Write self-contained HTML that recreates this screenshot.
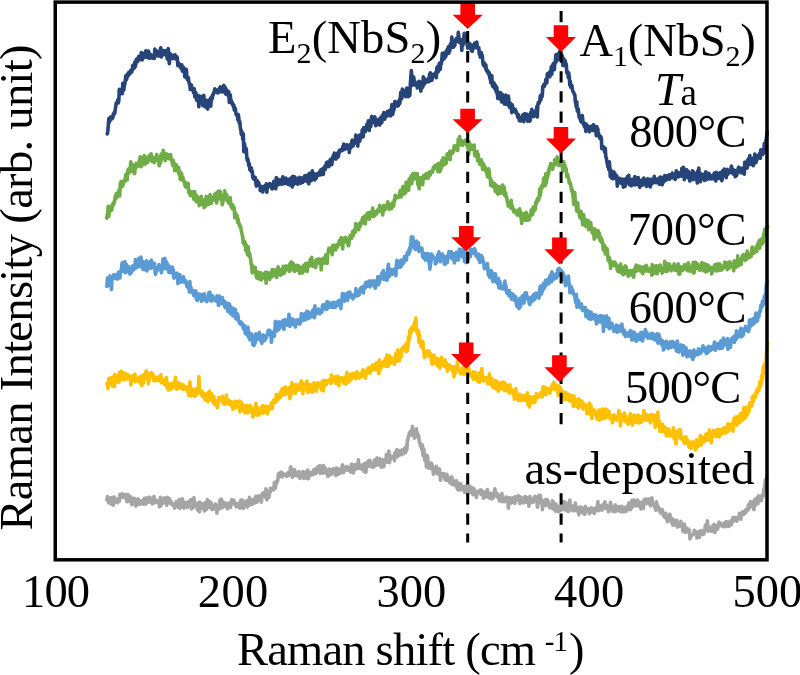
<!DOCTYPE html>
<html><head><meta charset="utf-8"><style>
html,body{margin:0;padding:0;background:#fff;}
svg{display:block;}
text{font-family:"Liberation Serif", "Times New Roman", serif;fill:#000;}
</style></head><body>
<svg width="800" height="675" viewBox="0 0 800 675">
<rect x="0" y="0" width="800" height="675" fill="#fff"/>
<path d="M106.9 500.0 L107.4 496.6 L107.9 499.4 L108.4 501.1 L108.9 503.0 L109.4 500.3 L109.9 498.6 L110.4 498.0 L110.9 501.9 L111.4 504.3 L111.9 501.0 L112.4 497.3 L112.9 498.3 L113.4 505.2 L113.9 501.8 L114.4 497.0 L114.9 501.6 L115.4 499.0 L115.9 500.7 L116.4 501.1 L116.9 500.0 L117.4 502.7 L117.9 500.5 L118.4 498.6 L118.9 500.7 L119.4 501.2 L119.9 494.2 L120.4 497.2 L120.9 494.8 L121.4 496.5 L121.9 493.7 L122.4 497.2 L122.9 497.2 L123.4 496.6 L123.9 494.8 L124.4 496.6 L124.9 494.9 L125.4 494.4 L125.9 498.6 L126.4 495.3 L126.9 501.7 L127.4 500.9 L127.9 494.3 L128.4 500.7 L128.9 497.5 L129.4 500.9 L129.9 501.4 L130.4 496.5 L130.9 501.5 L131.4 501.8 L131.9 504.6 L132.4 498.7 L132.9 503.4 L133.4 498.3 L133.9 500.0 L134.4 498.4 L134.9 504.0 L135.4 501.4 L135.9 506.0 L136.4 501.1 L136.9 502.0 L137.4 502.3 L137.9 498.8 L138.4 500.5 L138.9 504.5 L139.4 500.3 L139.9 502.1 L140.4 501.9 L140.9 503.8 L141.4 501.5 L141.9 502.0 L142.4 502.9 L142.9 502.4 L143.4 499.7 L143.9 504.2 L144.4 498.4 L144.9 498.5 L145.4 498.2 L145.9 503.9 L146.4 500.3 L146.9 498.6 L147.4 498.1 L147.9 502.0 L148.4 498.0 L148.9 497.3 L149.4 502.1 L149.9 497.3 L150.4 499.4 L150.9 500.1 L151.4 498.9 L151.9 500.2 L152.4 504.0 L152.9 499.5 L153.4 497.8 L153.9 496.5 L154.4 501.0 L154.9 500.9 L155.4 502.7 L155.9 501.1 L156.4 501.2 L156.9 500.5 L157.4 500.9 L157.9 502.5 L158.4 501.0 L158.9 502.1 L159.4 506.7 L159.9 502.9 L160.4 497.4 L160.9 505.9 L161.4 502.2 L161.9 498.7 L162.4 503.4 L162.9 500.9 L163.4 499.2 L163.9 499.0 L164.4 497.9 L164.9 500.5 L165.4 503.0 L165.9 499.3 L166.4 501.1 L166.9 505.2 L167.4 497.4 L167.9 501.5 L168.4 500.3 L168.9 498.5 L169.4 498.9 L169.9 501.8 L170.4 503.2 L170.9 500.9 L171.4 502.7 L171.9 504.5 L172.4 503.6 L172.9 505.2 L173.4 504.2 L173.9 504.4 L174.4 508.1 L174.9 505.1 L175.4 503.9 L175.9 505.5 L176.4 501.4 L176.9 502.8 L177.4 505.7 L177.9 505.2 L178.4 507.5 L178.9 503.5 L179.4 499.6 L179.9 508.4 L180.4 506.1 L180.9 500.4 L181.4 506.7 L181.9 503.4 L182.4 498.8 L182.9 502.6 L183.4 502.6 L183.9 508.2 L184.4 502.2 L184.9 503.8 L185.4 503.9 L185.9 503.9 L186.4 502.6 L186.9 505.4 L187.4 507.5 L187.9 506.2 L188.4 502.1 L188.9 501.4 L189.4 504.6 L189.9 502.3 L190.4 502.4 L190.9 499.5 L191.4 508.9 L191.9 506.2 L192.4 501.3 L192.9 506.2 L193.4 507.3 L193.9 497.6 L194.4 502.4 L194.9 502.8 L195.4 505.6 L195.9 503.7 L196.4 503.5 L196.9 504.1 L197.4 509.2 L197.9 510.1 L198.4 503.3 L198.9 502.3 L199.4 511.9 L199.9 502.4 L200.4 503.6 L200.9 505.3 L201.4 506.6 L201.9 508.2 L202.4 506.6 L202.9 503.5 L203.4 507.2 L203.9 506.7 L204.4 511.0 L204.9 506.2 L205.4 502.6 L205.9 503.1 L206.4 509.4 L206.9 503.9 L207.4 499.6 L207.9 503.3 L208.4 504.6 L208.9 507.4 L209.4 501.5 L209.9 505.6 L210.4 506.1 L210.9 502.4 L211.4 504.0 L211.9 509.4 L212.4 509.5 L212.9 507.5 L213.4 506.4 L213.9 508.7 L214.4 505.6 L214.9 506.0 L215.4 504.0 L215.9 506.2 L216.4 505.9 L216.9 513.2 L217.4 505.5 L217.9 509.2 L218.4 509.3 L218.9 505.3 L219.4 508.7 L219.9 500.0 L220.4 505.8 L220.9 507.6 L221.4 499.0 L221.9 502.1 L222.4 507.8 L222.9 504.2 L223.4 501.9 L223.9 503.7 L224.4 503.1 L224.9 506.3 L225.4 505.7 L225.9 504.0 L226.4 503.2 L226.9 505.0 L227.4 508.8 L227.9 506.4 L228.4 507.4 L228.9 505.5 L229.4 502.7 L229.9 504.4 L230.4 507.5 L230.9 505.4 L231.4 502.1 L231.9 499.6 L232.4 503.4 L232.9 501.6 L233.4 500.9 L233.9 500.5 L234.4 502.6 L234.9 503.0 L235.4 505.2 L235.9 505.5 L236.4 507.0 L236.9 506.1 L237.4 503.5 L237.9 504.7 L238.4 506.5 L238.9 504.7 L239.4 506.7 L239.9 508.1 L240.4 502.7 L240.9 500.0 L241.4 507.4 L241.9 504.1 L242.4 505.7 L242.9 500.3 L243.4 508.3 L243.9 505.7 L244.4 503.5 L244.9 502.9 L245.4 504.1 L245.9 503.4 L246.4 503.1 L246.9 500.9 L247.4 507.1 L247.9 503.6 L248.4 503.9 L248.9 503.9 L249.4 497.4 L249.9 504.9 L250.4 502.4 L250.9 502.3 L251.4 502.9 L251.9 499.9 L252.4 504.4 L252.9 500.1 L253.4 499.3 L253.9 499.2 L254.4 501.5 L254.9 502.8 L255.4 498.9 L255.9 496.2 L256.4 502.4 L256.9 496.5 L257.4 502.0 L257.9 498.3 L258.4 496.3 L258.9 496.0 L259.4 498.5 L259.9 499.2 L260.4 496.2 L260.9 499.2 L261.4 502.1 L261.9 496.1 L262.4 493.6 L262.9 493.8 L263.4 492.8 L263.9 494.7 L264.4 494.5 L264.9 492.9 L265.4 497.3 L265.9 488.7 L266.4 491.6 L266.9 499.9 L267.4 496.9 L267.9 495.1 L268.4 494.5 L268.9 497.5 L269.4 493.8 L269.9 492.2 L270.4 488.4 L270.9 491.0 L271.4 488.8 L271.9 488.5 L272.4 488.1 L272.9 489.4 L273.4 488.1 L273.9 489.7 L274.4 482.6 L274.9 484.2 L275.4 488.0 L275.9 481.9 L276.4 483.7 L276.9 482.3 L277.4 481.6 L277.9 479.5 L278.4 473.8 L278.9 476.5 L279.4 476.0 L279.9 472.8 L280.4 475.5 L280.9 473.4 L281.4 472.2 L281.9 477.0 L282.4 476.3 L282.9 474.5 L283.4 473.7 L283.9 474.7 L284.4 475.0 L284.9 474.9 L285.4 475.5 L285.9 474.3 L286.4 476.1 L286.9 476.2 L287.4 475.5 L287.9 472.8 L288.4 472.8 L288.9 475.4 L289.4 473.7 L289.9 474.0 L290.4 467.5 L290.9 466.9 L291.4 474.7 L291.9 474.6 L292.4 477.3 L292.9 475.5 L293.4 474.1 L293.9 473.4 L294.4 469.6 L294.9 475.5 L295.4 471.7 L295.9 474.7 L296.4 473.9 L296.9 474.2 L297.4 475.9 L297.9 472.4 L298.4 472.7 L298.9 471.6 L299.4 472.9 L299.9 478.3 L300.4 473.1 L300.9 477.1 L301.4 476.2 L301.9 476.0 L302.4 476.2 L302.9 471.5 L303.4 475.2 L303.9 478.4 L304.4 472.5 L304.9 474.2 L305.4 472.5 L305.9 475.1 L306.4 471.4 L306.9 478.4 L307.4 473.2 L307.9 470.1 L308.4 478.8 L308.9 476.6 L309.4 475.4 L309.9 475.4 L310.4 472.7 L310.9 472.7 L311.4 474.8 L311.9 474.9 L312.4 474.5 L312.9 472.2 L313.4 470.1 L313.9 470.4 L314.4 473.4 L314.9 473.8 L315.4 469.1 L315.9 468.8 L316.4 473.2 L316.9 471.9 L317.4 471.8 L317.9 466.6 L318.4 469.0 L318.9 468.7 L319.4 470.5 L319.9 465.6 L320.4 473.3 L320.9 470.7 L321.4 471.0 L321.9 466.7 L322.4 469.6 L322.9 473.1 L323.4 465.5 L323.9 470.3 L324.4 471.3 L324.9 467.6 L325.4 471.8 L325.9 469.1 L326.4 473.5 L326.9 471.9 L327.4 471.5 L327.9 476.4 L328.4 473.7 L328.9 475.2 L329.4 469.0 L329.9 470.8 L330.4 474.6 L330.9 474.6 L331.4 472.0 L331.9 474.1 L332.4 469.2 L332.9 472.4 L333.4 468.7 L333.9 472.4 L334.4 470.2 L334.9 469.7 L335.4 471.2 L335.9 475.6 L336.4 468.0 L336.9 468.8 L337.4 472.9 L337.9 468.7 L338.4 474.2 L338.9 469.9 L339.4 469.3 L339.9 469.8 L340.4 473.3 L340.9 470.5 L341.4 470.2 L341.9 469.5 L342.4 464.8 L342.9 466.6 L343.4 472.7 L343.9 471.0 L344.4 470.2 L344.9 470.6 L345.4 467.5 L345.9 469.8 L346.4 466.6 L346.9 470.0 L347.4 467.1 L347.9 468.4 L348.4 470.1 L348.9 468.1 L349.4 470.7 L349.9 470.2 L350.4 469.8 L350.9 472.1 L351.4 464.6 L351.9 464.1 L352.4 469.7 L352.9 470.3 L353.4 472.9 L353.9 469.5 L354.4 469.5 L354.9 464.8 L355.4 469.1 L355.9 468.9 L356.4 464.5 L356.9 465.0 L357.4 467.1 L357.9 468.1 L358.4 459.8 L358.9 467.7 L359.4 468.1 L359.9 467.1 L360.4 468.3 L360.9 468.8 L361.4 465.0 L361.9 468.7 L362.4 466.9 L362.9 465.1 L363.4 468.1 L363.9 471.5 L364.4 463.8 L364.9 463.3 L365.4 463.1 L365.9 472.3 L366.4 466.3 L366.9 466.6 L367.4 464.5 L367.9 463.9 L368.4 460.8 L368.9 466.3 L369.4 466.3 L369.9 460.3 L370.4 462.5 L370.9 463.0 L371.4 464.6 L371.9 465.0 L372.4 467.0 L372.9 467.4 L373.4 466.3 L373.9 466.8 L374.4 460.0 L374.9 461.3 L375.4 465.7 L375.9 463.6 L376.4 463.0 L376.9 457.8 L377.4 458.2 L377.9 465.0 L378.4 464.1 L378.9 462.5 L379.4 462.2 L379.9 458.7 L380.4 464.0 L380.9 465.7 L381.4 467.2 L381.9 463.0 L382.4 462.2 L382.9 459.8 L383.4 465.7 L383.9 466.7 L384.4 460.5 L384.9 462.6 L385.4 461.8 L385.9 459.8 L386.4 454.6 L386.9 459.9 L387.4 462.2 L387.9 456.6 L388.4 457.8 L388.9 451.1 L389.4 462.6 L389.9 460.3 L390.4 458.7 L390.9 457.6 L391.4 456.3 L391.9 457.4 L392.4 456.5 L392.9 456.5 L393.4 456.9 L393.9 457.2 L394.4 460.7 L394.9 452.7 L395.4 457.0 L395.9 454.5 L396.4 453.0 L396.9 449.6 L397.4 456.9 L397.9 452.3 L398.4 452.5 L398.9 455.2 L399.4 450.8 L399.9 453.3 L400.4 452.6 L400.9 454.4 L401.4 454.7 L401.9 449.7 L402.4 454.1 L402.9 451.3 L403.4 451.7 L403.9 450.7 L404.4 453.1 L404.9 447.8 L405.4 451.4 L405.9 452.2 L406.4 445.9 L406.9 449.4 L407.4 439.7 L407.9 439.9 L408.4 436.9 L408.9 435.4 L409.4 432.9 L409.9 433.2 L410.4 433.6 L410.9 430.8 L411.4 434.3 L411.9 435.1 L412.4 426.3 L412.9 431.6 L413.4 430.5 L413.9 431.5 L414.4 438.1 L414.9 435.7 L415.4 434.4 L415.9 434.9 L416.4 428.9 L416.9 436.7 L417.4 432.9 L417.9 435.4 L418.4 435.3 L418.9 437.7 L419.4 442.8 L419.9 442.5 L420.4 445.6 L420.9 444.0 L421.4 447.5 L421.9 449.6 L422.4 445.1 L422.9 455.3 L423.4 449.4 L423.9 449.2 L424.4 458.0 L424.9 460.5 L425.4 454.5 L425.9 456.0 L426.4 467.0 L426.9 460.4 L427.4 455.9 L427.9 460.2 L428.4 467.8 L428.9 465.1 L429.4 466.2 L429.9 468.2 L430.4 467.6 L430.9 465.7 L431.4 463.0 L431.9 468.9 L432.4 465.4 L432.9 468.8 L433.4 474.1 L433.9 471.5 L434.4 470.9 L434.9 470.6 L435.4 472.1 L435.9 472.4 L436.4 466.3 L436.9 470.0 L437.4 473.8 L437.9 472.5 L438.4 469.9 L438.9 471.4 L439.4 469.1 L439.9 473.7 L440.4 480.1 L440.9 475.7 L441.4 473.6 L441.9 474.3 L442.4 475.5 L442.9 475.4 L443.4 474.7 L443.9 473.6 L444.4 477.2 L444.9 479.5 L445.4 474.5 L445.9 475.3 L446.4 480.4 L446.9 474.2 L447.4 477.1 L447.9 478.3 L448.4 480.4 L448.9 479.9 L449.4 478.9 L449.9 482.7 L450.4 479.0 L450.9 477.6 L451.4 477.0 L451.9 484.3 L452.4 478.0 L452.9 483.7 L453.4 484.4 L453.9 484.9 L454.4 482.4 L454.9 481.6 L455.4 483.5 L455.9 482.2 L456.4 480.8 L456.9 487.8 L457.4 482.6 L457.9 490.0 L458.4 487.1 L458.9 484.9 L459.4 487.7 L459.9 490.1 L460.4 483.6 L460.9 485.0 L461.4 485.0 L461.9 488.4 L462.4 489.3 L462.9 488.5 L463.4 486.8 L463.9 487.6 L464.4 492.3 L464.9 492.4 L465.4 489.8 L465.9 485.9 L466.4 490.9 L466.9 489.9 L467.4 489.7 L467.9 493.4 L468.4 491.0 L468.9 486.2 L469.4 486.1 L469.9 492.1 L470.4 489.3 L470.9 491.4 L471.4 489.2 L471.9 487.4 L472.4 491.0 L472.9 494.7 L473.4 491.9 L473.9 488.5 L474.4 490.9 L474.9 490.8 L475.4 492.7 L475.9 494.9 L476.4 497.5 L476.9 493.0 L477.4 491.4 L477.9 492.7 L478.4 492.6 L478.9 491.5 L479.4 492.7 L479.9 492.7 L480.4 489.8 L480.9 494.4 L481.4 492.2 L481.9 490.8 L482.4 494.7 L482.9 492.4 L483.4 498.3 L483.9 495.2 L484.4 494.3 L484.9 492.2 L485.4 493.3 L485.9 496.7 L486.4 492.9 L486.9 496.8 L487.4 489.5 L487.9 495.6 L488.4 497.3 L488.9 496.3 L489.4 495.5 L489.9 498.3 L490.4 493.5 L490.9 493.2 L491.4 496.1 L491.9 499.0 L492.4 497.1 L492.9 495.5 L493.4 496.8 L493.9 497.2 L494.4 492.9 L494.9 488.9 L495.4 493.6 L495.9 492.4 L496.4 494.8 L496.9 493.3 L497.4 494.2 L497.9 497.6 L498.4 496.8 L498.9 496.5 L499.4 501.0 L499.9 495.5 L500.4 496.0 L500.9 500.6 L501.4 494.7 L501.9 493.6 L502.4 501.6 L502.9 499.4 L503.4 500.3 L503.9 500.7 L504.4 501.7 L504.9 498.5 L505.4 499.6 L505.9 497.1 L506.4 500.4 L506.9 500.8 L507.4 499.1 L507.9 502.1 L508.4 508.1 L508.9 497.6 L509.4 502.8 L509.9 503.2 L510.4 503.3 L510.9 498.1 L511.4 502.9 L511.9 501.2 L512.4 498.8 L512.9 497.9 L513.4 499.0 L513.9 500.5 L514.4 500.0 L514.9 503.3 L515.4 496.6 L515.9 499.4 L516.4 496.9 L516.9 500.3 L517.4 498.8 L517.9 497.2 L518.4 495.6 L518.9 497.3 L519.4 500.1 L519.9 503.6 L520.4 502.0 L520.9 497.0 L521.4 499.1 L521.9 500.6 L522.4 500.3 L522.9 501.0 L523.4 503.0 L523.9 501.7 L524.4 499.5 L524.9 496.5 L525.4 500.6 L525.9 497.1 L526.4 501.0 L526.9 502.2 L527.4 497.9 L527.9 501.0 L528.4 500.4 L528.9 506.3 L529.4 502.5 L529.9 496.4 L530.4 502.3 L530.9 502.2 L531.4 500.5 L531.9 500.0 L532.4 502.4 L532.9 502.5 L533.4 501.8 L533.9 498.0 L534.4 499.9 L534.9 496.4 L535.4 496.6 L535.9 499.1 L536.4 497.9 L536.9 499.6 L537.4 507.2 L537.9 502.1 L538.4 498.5 L538.9 495.3 L539.4 498.8 L539.9 497.3 L540.4 495.4 L540.9 503.1 L541.4 500.1 L541.9 502.6 L542.4 509.6 L542.9 502.4 L543.4 502.1 L543.9 502.8 L544.4 501.3 L544.9 500.0 L545.4 501.8 L545.9 505.6 L546.4 502.2 L546.9 499.6 L547.4 500.1 L547.9 501.0 L548.4 503.9 L548.9 505.4 L549.4 505.7 L549.9 507.8 L550.4 504.3 L550.9 507.2 L551.4 506.0 L551.9 507.2 L552.4 500.7 L552.9 508.9 L553.4 501.8 L553.9 503.1 L554.4 508.2 L554.9 505.3 L555.4 511.1 L555.9 507.1 L556.4 504.2 L556.9 507.4 L557.4 506.1 L557.9 511.3 L558.4 511.7 L558.9 509.5 L559.4 506.7 L559.9 508.2 L560.4 510.6 L560.9 505.6 L561.4 505.4 L561.9 509.5 L562.4 509.1 L562.9 506.4 L563.4 506.1 L563.9 501.6 L564.4 509.6 L564.9 506.0 L565.4 502.6 L565.9 503.5 L566.4 504.1 L566.9 510.9 L567.4 508.4 L567.9 503.2 L568.4 511.5 L568.9 510.2 L569.4 504.1 L569.9 500.0 L570.4 509.4 L570.9 505.3 L571.4 506.5 L571.9 505.5 L572.4 510.2 L572.9 510.7 L573.4 509.0 L573.9 506.5 L574.4 507.6 L574.9 508.5 L575.4 503.0 L575.9 510.6 L576.4 506.8 L576.9 508.5 L577.4 508.5 L577.9 510.7 L578.4 511.4 L578.9 514.6 L579.4 508.2 L579.9 507.0 L580.4 509.9 L580.9 507.9 L581.4 512.0 L581.9 507.8 L582.4 510.4 L582.9 512.6 L583.4 512.9 L583.9 510.9 L584.4 514.2 L584.9 514.0 L585.4 506.2 L585.9 511.5 L586.4 511.0 L586.9 509.7 L587.4 508.7 L587.9 510.4 L588.4 511.3 L588.9 510.9 L589.4 513.7 L589.9 512.7 L590.4 508.5 L590.9 508.0 L591.4 512.1 L591.9 508.1 L592.4 510.2 L592.9 511.0 L593.4 512.4 L593.9 511.0 L594.4 513.3 L594.9 508.3 L595.4 511.1 L595.9 507.5 L596.4 509.5 L596.9 509.1 L597.4 506.2 L597.9 501.6 L598.4 510.7 L598.9 509.0 L599.4 508.2 L599.9 505.8 L600.4 506.6 L600.9 508.6 L601.4 507.3 L601.9 510.2 L602.4 507.3 L602.9 504.8 L603.4 508.4 L603.9 505.0 L604.4 507.1 L604.9 501.7 L605.4 505.6 L605.9 508.1 L606.4 505.0 L606.9 506.8 L607.4 508.5 L607.9 507.3 L608.4 511.8 L608.9 506.6 L609.4 507.0 L609.9 507.1 L610.4 502.4 L610.9 503.6 L611.4 509.0 L611.9 506.7 L612.4 511.2 L612.9 507.4 L613.4 507.1 L613.9 510.2 L614.4 508.3 L614.9 511.7 L615.4 504.9 L615.9 508.8 L616.4 509.5 L616.9 509.2 L617.4 510.8 L617.9 510.5 L618.4 508.0 L618.9 506.5 L619.4 510.6 L619.9 508.2 L620.4 510.7 L620.9 511.8 L621.4 509.0 L621.9 506.2 L622.4 508.0 L622.9 510.8 L623.4 508.3 L623.9 512.0 L624.4 509.2 L624.9 509.5 L625.4 507.4 L625.9 508.4 L626.4 511.2 L626.9 507.2 L627.4 506.9 L627.9 505.5 L628.4 509.2 L628.9 502.9 L629.4 504.9 L629.9 508.6 L630.4 509.7 L630.9 505.3 L631.4 508.1 L631.9 500.3 L632.4 507.2 L632.9 505.8 L633.4 501.6 L633.9 500.0 L634.4 503.1 L634.9 504.9 L635.4 505.0 L635.9 504.3 L636.4 505.9 L636.9 505.6 L637.4 500.1 L637.9 502.6 L638.4 502.1 L638.9 506.0 L639.4 502.0 L639.9 505.8 L640.4 503.3 L640.9 509.0 L641.4 502.6 L641.9 502.6 L642.4 502.1 L642.9 502.7 L643.4 508.4 L643.9 500.7 L644.4 499.6 L644.9 501.2 L645.4 503.3 L645.9 499.0 L646.4 503.6 L646.9 503.4 L647.4 501.0 L647.9 500.7 L648.4 499.2 L648.9 500.5 L649.4 499.1 L649.9 504.4 L650.4 505.7 L650.9 501.1 L651.4 502.1 L651.9 497.7 L652.4 501.6 L652.9 504.3 L653.4 504.5 L653.9 504.5 L654.4 506.8 L654.9 505.2 L655.4 504.6 L655.9 510.3 L656.4 501.8 L656.9 504.4 L657.4 506.0 L657.9 506.7 L658.4 507.1 L658.9 509.2 L659.4 508.5 L659.9 510.8 L660.4 512.9 L660.9 511.8 L661.4 512.4 L661.9 509.9 L662.4 509.8 L662.9 512.3 L663.4 515.8 L663.9 514.7 L664.4 516.9 L664.9 517.0 L665.4 517.8 L665.9 513.2 L666.4 518.9 L666.9 518.0 L667.4 521.8 L667.9 518.4 L668.4 518.1 L668.9 517.3 L669.4 518.5 L669.9 514.2 L670.4 518.2 L670.9 519.1 L671.4 522.1 L671.9 518.2 L672.4 520.6 L672.9 525.3 L673.4 519.5 L673.9 523.4 L674.4 520.2 L674.9 521.7 L675.4 523.4 L675.9 524.8 L676.4 521.5 L676.9 520.3 L677.4 527.1 L677.9 524.0 L678.4 525.8 L678.9 526.3 L679.4 526.2 L679.9 523.8 L680.4 524.5 L680.9 521.2 L681.4 526.0 L681.9 524.7 L682.4 526.2 L682.9 531.4 L683.4 528.7 L683.9 527.4 L684.4 524.1 L684.9 529.8 L685.4 532.5 L685.9 527.3 L686.4 531.2 L686.9 529.6 L687.4 531.2 L687.9 531.4 L688.4 529.0 L688.9 532.6 L689.4 530.5 L689.9 538.9 L690.4 538.0 L690.9 535.3 L691.4 535.7 L691.9 534.9 L692.4 535.1 L692.9 534.9 L693.4 533.6 L693.9 533.5 L694.4 530.3 L694.9 531.0 L695.4 531.9 L695.9 533.9 L696.4 532.3 L696.9 538.0 L697.4 532.6 L697.9 532.0 L698.4 534.0 L698.9 535.4 L699.4 537.4 L699.9 535.0 L700.4 530.8 L700.9 531.5 L701.4 534.3 L701.9 532.0 L702.4 533.1 L702.9 530.5 L703.4 534.5 L703.9 533.8 L704.4 532.7 L704.9 529.9 L705.4 525.1 L705.9 525.4 L706.4 529.4 L706.9 530.0 L707.4 520.9 L707.9 527.1 L708.4 531.3 L708.9 530.8 L709.4 527.1 L709.9 529.9 L710.4 528.4 L710.9 527.8 L711.4 531.1 L711.9 531.2 L712.4 527.0 L712.9 525.9 L713.4 524.9 L713.9 524.4 L714.4 531.3 L714.9 532.5 L715.4 528.1 L715.9 530.0 L716.4 525.5 L716.9 526.9 L717.4 529.2 L717.9 527.5 L718.4 526.4 L718.9 522.1 L719.4 522.5 L719.9 525.0 L720.4 524.5 L720.9 525.5 L721.4 524.0 L721.9 524.9 L722.4 525.4 L722.9 526.4 L723.4 525.1 L723.9 523.4 L724.4 523.9 L724.9 526.8 L725.4 523.8 L725.9 521.7 L726.4 521.5 L726.9 524.5 L727.4 525.0 L727.9 526.5 L728.4 522.4 L728.9 526.5 L729.4 522.0 L729.9 522.1 L730.4 521.0 L730.9 523.6 L731.4 524.7 L731.9 521.8 L732.4 520.4 L732.9 517.5 L733.4 521.5 L733.9 519.9 L734.4 519.9 L734.9 518.4 L735.4 517.5 L735.9 518.3 L736.4 520.1 L736.9 521.1 L737.4 518.3 L737.9 518.8 L738.4 517.1 L738.9 516.9 L739.4 513.4 L739.9 518.6 L740.4 517.5 L740.9 519.2 L741.4 513.5 L741.9 514.9 L742.4 511.8 L742.9 514.2 L743.4 512.9 L743.9 514.4 L744.4 511.9 L744.9 513.4 L745.4 510.1 L745.9 512.4 L746.4 509.6 L746.9 508.8 L747.4 509.7 L747.9 510.0 L748.4 505.0 L748.9 504.3 L749.4 508.1 L749.9 507.0 L750.4 501.6 L750.9 502.0 L751.4 503.9 L751.9 506.1 L752.4 505.4 L752.9 507.1 L753.4 507.1 L753.9 509.7 L754.4 499.7 L754.9 502.9 L755.4 505.3 L755.9 499.1 L756.4 498.3 L756.9 501.9 L757.4 503.8 L757.9 503.8 L758.4 495.8 L758.9 496.7 L759.4 498.8 L759.9 497.0 L760.4 498.5 L760.9 497.3 L761.4 500.7 L761.9 495.3 L762.4 495.2 L762.9 494.3 L763.4 496.1 L763.9 488.7 L764.4 489.8 L764.9 484.2 L765.4 479.9 L765.9 483.8 L766.4 479.5 L766.8 476.0" fill="none" stroke="#A5A5A5" stroke-width="3.6" stroke-linejoin="round" stroke-linecap="round"/>
<path d="M106.9 383.8 L107.4 383.2 L107.9 388.4 L108.4 385.3 L108.9 378.5 L109.4 383.1 L109.9 381.2 L110.4 383.2 L110.9 377.8 L111.4 382.8 L111.9 382.5 L112.4 386.0 L112.9 382.0 L113.4 382.3 L113.9 376.1 L114.4 386.7 L114.9 374.3 L115.4 382.7 L115.9 378.2 L116.4 376.3 L116.9 376.6 L117.4 376.4 L117.9 379.3 L118.4 377.7 L118.9 382.2 L119.4 372.4 L119.9 377.5 L120.4 374.9 L120.9 379.6 L121.4 371.2 L121.9 376.3 L122.4 377.8 L122.9 372.8 L123.4 379.9 L123.9 377.5 L124.4 379.7 L124.9 379.4 L125.4 373.6 L125.9 374.0 L126.4 375.6 L126.9 378.2 L127.4 378.9 L127.9 374.8 L128.4 375.5 L128.9 375.3 L129.4 376.3 L129.9 377.7 L130.4 378.5 L130.9 384.9 L131.4 377.3 L131.9 377.8 L132.4 379.8 L132.9 375.5 L133.4 377.1 L133.9 378.0 L134.4 380.2 L134.9 374.0 L135.4 381.8 L135.9 376.7 L136.4 378.1 L136.9 380.0 L137.4 379.4 L137.9 380.9 L138.4 378.7 L138.9 378.5 L139.4 379.9 L139.9 376.5 L140.4 383.3 L140.9 377.9 L141.4 376.7 L141.9 385.7 L142.4 378.7 L142.9 375.0 L143.4 383.2 L143.9 376.2 L144.4 379.6 L144.9 374.1 L145.4 375.8 L145.9 371.6 L146.4 371.0 L146.9 373.7 L147.4 376.3 L147.9 378.9 L148.4 383.7 L148.9 373.7 L149.4 379.7 L149.9 375.1 L150.4 376.5 L150.9 372.7 L151.4 372.7 L151.9 374.7 L152.4 373.5 L152.9 377.0 L153.4 375.0 L153.9 380.6 L154.4 377.5 L154.9 377.7 L155.4 380.6 L155.9 378.8 L156.4 377.3 L156.9 377.2 L157.4 377.2 L157.9 380.8 L158.4 380.0 L158.9 378.9 L159.4 380.2 L159.9 376.4 L160.4 379.7 L160.9 374.5 L161.4 382.8 L161.9 379.5 L162.4 380.1 L162.9 381.6 L163.4 380.2 L163.9 379.9 L164.4 384.5 L164.9 381.7 L165.4 379.1 L165.9 383.5 L166.4 377.6 L166.9 387.6 L167.4 382.5 L167.9 383.4 L168.4 390.1 L168.9 390.0 L169.4 384.3 L169.9 385.9 L170.4 387.3 L170.9 389.1 L171.4 383.9 L171.9 384.8 L172.4 388.0 L172.9 385.3 L173.4 386.8 L173.9 386.5 L174.4 381.5 L174.9 382.4 L175.4 377.3 L175.9 384.3 L176.4 389.0 L176.9 382.0 L177.4 388.9 L177.9 388.3 L178.4 385.3 L178.9 385.5 L179.4 385.9 L179.9 383.4 L180.4 385.2 L180.9 386.0 L181.4 388.1 L181.9 388.8 L182.4 384.6 L182.9 389.4 L183.4 385.0 L183.9 387.0 L184.4 388.8 L184.9 387.9 L185.4 387.8 L185.9 389.2 L186.4 387.1 L186.9 387.0 L187.4 388.6 L187.9 392.2 L188.4 389.4 L188.9 395.5 L189.4 390.9 L189.9 381.9 L190.4 389.5 L190.9 395.9 L191.4 391.3 L191.9 390.2 L192.4 389.0 L192.9 395.5 L193.4 394.7 L193.9 393.8 L194.4 393.2 L194.9 396.3 L195.4 394.5 L195.9 388.7 L196.4 394.6 L196.9 392.9 L197.4 392.2 L197.9 392.6 L198.4 387.8 L198.9 376.5 L199.4 391.3 L199.9 392.6 L200.4 392.1 L200.9 392.4 L201.4 394.8 L201.9 391.1 L202.4 396.4 L202.9 395.0 L203.4 394.7 L203.9 393.2 L204.4 394.0 L204.9 399.3 L205.4 400.0 L205.9 397.7 L206.4 396.2 L206.9 393.9 L207.4 398.7 L207.9 401.5 L208.4 392.3 L208.9 400.5 L209.4 391.0 L209.9 396.5 L210.4 398.8 L210.9 393.8 L211.4 393.6 L211.9 398.7 L212.4 400.9 L212.9 397.1 L213.4 402.6 L213.9 396.6 L214.4 404.3 L214.9 399.9 L215.4 400.6 L215.9 402.0 L216.4 401.5 L216.9 406.2 L217.4 407.6 L217.9 402.7 L218.4 400.5 L218.9 397.4 L219.4 398.5 L219.9 400.5 L220.4 400.0 L220.9 400.0 L221.4 400.0 L221.9 401.5 L222.4 396.3 L222.9 397.3 L223.4 403.6 L223.9 402.9 L224.4 398.9 L224.9 404.3 L225.4 398.6 L225.9 399.7 L226.4 395.1 L226.9 402.8 L227.4 400.2 L227.9 403.2 L228.4 402.1 L228.9 400.4 L229.4 401.1 L229.9 404.6 L230.4 401.2 L230.9 401.7 L231.4 402.9 L231.9 405.6 L232.4 406.4 L232.9 409.3 L233.4 403.3 L233.9 407.1 L234.4 401.3 L234.9 404.8 L235.4 403.3 L235.9 407.8 L236.4 404.4 L236.9 401.5 L237.4 404.7 L237.9 404.2 L238.4 402.4 L238.9 402.7 L239.4 401.0 L239.9 411.9 L240.4 404.9 L240.9 407.9 L241.4 402.4 L241.9 403.3 L242.4 406.7 L242.9 407.3 L243.4 410.7 L243.9 406.0 L244.4 410.3 L244.9 413.0 L245.4 405.7 L245.9 410.8 L246.4 405.2 L246.9 408.9 L247.4 408.7 L247.9 412.9 L248.4 406.1 L248.9 408.8 L249.4 411.6 L249.9 405.4 L250.4 409.1 L250.9 406.8 L251.4 407.5 L251.9 411.5 L252.4 411.6 L252.9 417.0 L253.4 413.5 L253.9 413.3 L254.4 409.1 L254.9 408.7 L255.4 410.1 L255.9 403.4 L256.4 415.0 L256.9 408.5 L257.4 407.7 L257.9 409.6 L258.4 413.8 L258.9 415.0 L259.4 410.1 L259.9 412.3 L260.4 410.7 L260.9 407.8 L261.4 411.0 L261.9 410.4 L262.4 405.7 L262.9 413.3 L263.4 405.5 L263.9 410.8 L264.4 407.0 L264.9 407.7 L265.4 408.0 L265.9 412.1 L266.4 406.4 L266.9 409.1 L267.4 413.8 L267.9 407.0 L268.4 408.5 L268.9 410.2 L269.4 406.3 L269.9 409.0 L270.4 405.1 L270.9 408.4 L271.4 405.9 L271.9 402.3 L272.4 408.5 L272.9 403.5 L273.4 402.3 L273.9 399.7 L274.4 400.2 L274.9 400.4 L275.4 400.4 L275.9 402.2 L276.4 394.4 L276.9 396.3 L277.4 400.0 L277.9 396.3 L278.4 396.3 L278.9 399.1 L279.4 394.8 L279.9 394.5 L280.4 392.4 L280.9 397.0 L281.4 394.4 L281.9 389.4 L282.4 393.1 L282.9 388.3 L283.4 394.9 L283.9 393.8 L284.4 391.5 L284.9 390.8 L285.4 386.7 L285.9 394.1 L286.4 391.4 L286.9 390.8 L287.4 393.7 L287.9 389.6 L288.4 389.7 L288.9 389.3 L289.4 387.6 L289.9 398.7 L290.4 391.3 L290.9 390.9 L291.4 394.4 L291.9 382.6 L292.4 391.5 L292.9 391.5 L293.4 388.5 L293.9 392.5 L294.4 385.2 L294.9 390.9 L295.4 393.3 L295.9 384.2 L296.4 386.1 L296.9 389.6 L297.4 389.6 L297.9 387.5 L298.4 390.1 L298.9 389.4 L299.4 384.5 L299.9 387.8 L300.4 384.3 L300.9 382.0 L301.4 381.0 L301.9 391.0 L302.4 387.6 L302.9 393.7 L303.4 383.7 L303.9 387.0 L304.4 389.0 L304.9 387.6 L305.4 389.4 L305.9 388.3 L306.4 386.0 L306.9 381.0 L307.4 384.9 L307.9 392.6 L308.4 389.8 L308.9 391.5 L309.4 385.7 L309.9 386.8 L310.4 384.8 L310.9 388.4 L311.4 387.4 L311.9 388.4 L312.4 392.2 L312.9 384.5 L313.4 389.0 L313.9 382.7 L314.4 389.9 L314.9 385.4 L315.4 386.4 L315.9 386.9 L316.4 391.2 L316.9 386.2 L317.4 384.8 L317.9 382.7 L318.4 386.8 L318.9 383.5 L319.4 384.4 L319.9 385.7 L320.4 387.6 L320.9 383.4 L321.4 387.2 L321.9 390.3 L322.4 380.7 L322.9 388.8 L323.4 390.9 L323.9 382.8 L324.4 386.1 L324.9 380.2 L325.4 385.0 L325.9 382.9 L326.4 384.5 L326.9 380.8 L327.4 380.9 L327.9 381.8 L328.4 380.8 L328.9 380.9 L329.4 381.9 L329.9 379.1 L330.4 381.7 L330.9 383.4 L331.4 375.1 L331.9 382.2 L332.4 379.3 L332.9 378.0 L333.4 377.2 L333.9 378.5 L334.4 378.6 L334.9 381.6 L335.4 376.7 L335.9 383.3 L336.4 377.7 L336.9 381.9 L337.4 382.9 L337.9 376.1 L338.4 382.6 L338.9 385.7 L339.4 377.9 L339.9 380.8 L340.4 378.7 L340.9 379.3 L341.4 378.5 L341.9 377.6 L342.4 381.1 L342.9 381.5 L343.4 379.0 L343.9 383.3 L344.4 382.1 L344.9 380.9 L345.4 376.8 L345.9 384.3 L346.4 382.5 L346.9 372.4 L347.4 375.3 L347.9 377.1 L348.4 381.1 L348.9 381.9 L349.4 377.4 L349.9 378.9 L350.4 380.0 L350.9 374.1 L351.4 379.3 L351.9 376.5 L352.4 377.7 L352.9 376.8 L353.4 373.3 L353.9 373.6 L354.4 376.4 L354.9 376.4 L355.4 375.1 L355.9 378.8 L356.4 374.5 L356.9 371.8 L357.4 374.2 L357.9 374.5 L358.4 374.5 L358.9 378.0 L359.4 376.0 L359.9 377.4 L360.4 375.9 L360.9 373.3 L361.4 376.5 L361.9 372.5 L362.4 373.7 L362.9 369.8 L363.4 372.7 L363.9 371.2 L364.4 372.9 L364.9 376.8 L365.4 378.2 L365.9 374.1 L366.4 370.8 L366.9 373.0 L367.4 371.1 L367.9 368.4 L368.4 369.8 L368.9 369.0 L369.4 367.7 L369.9 373.3 L370.4 367.5 L370.9 367.5 L371.4 370.8 L371.9 366.6 L372.4 365.1 L372.9 365.8 L373.4 369.5 L373.9 369.0 L374.4 368.6 L374.9 366.2 L375.4 364.7 L375.9 369.8 L376.4 362.8 L376.9 366.2 L377.4 362.7 L377.9 366.9 L378.4 369.5 L378.9 373.8 L379.4 360.0 L379.9 370.3 L380.4 363.2 L380.9 366.3 L381.4 367.5 L381.9 362.6 L382.4 364.3 L382.9 365.7 L383.4 363.6 L383.9 361.6 L384.4 364.0 L384.9 363.4 L385.4 358.5 L385.9 366.5 L386.4 363.0 L386.9 355.0 L387.4 359.3 L387.9 366.5 L388.4 365.8 L388.9 361.7 L389.4 355.7 L389.9 359.7 L390.4 363.3 L390.9 361.3 L391.4 359.1 L391.9 357.9 L392.4 362.3 L392.9 359.2 L393.4 360.7 L393.9 361.1 L394.4 364.4 L394.9 360.1 L395.4 359.8 L395.9 353.4 L396.4 361.3 L396.9 360.1 L397.4 356.9 L397.9 349.9 L398.4 354.3 L398.9 355.6 L399.4 360.9 L399.9 356.0 L400.4 356.1 L400.9 355.6 L401.4 356.5 L401.9 348.7 L402.4 349.0 L402.9 347.4 L403.4 349.4 L403.9 348.7 L404.4 349.4 L404.9 345.5 L405.4 347.8 L405.9 344.0 L406.4 351.6 L406.9 342.9 L407.4 350.8 L407.9 347.0 L408.4 337.0 L408.9 341.3 L409.4 338.3 L409.9 330.1 L410.4 334.3 L410.9 330.9 L411.4 331.5 L411.9 327.3 L412.4 329.0 L412.9 329.6 L413.4 326.8 L413.9 324.5 L414.4 324.8 L414.9 321.4 L415.4 324.7 L415.9 318.0 L416.4 331.6 L416.9 329.1 L417.4 332.1 L417.9 334.9 L418.4 330.5 L418.9 342.4 L419.4 334.1 L419.9 340.4 L420.4 341.7 L420.9 346.2 L421.4 344.0 L421.9 341.6 L422.4 348.2 L422.9 341.6 L423.4 349.6 L423.9 350.4 L424.4 357.7 L424.9 353.2 L425.4 352.7 L425.9 351.9 L426.4 351.6 L426.9 352.4 L427.4 355.9 L427.9 350.7 L428.4 354.2 L428.9 351.0 L429.4 355.1 L429.9 356.4 L430.4 353.6 L430.9 357.1 L431.4 360.5 L431.9 364.0 L432.4 364.3 L432.9 360.6 L433.4 357.4 L433.9 355.0 L434.4 361.4 L434.9 362.5 L435.4 359.2 L435.9 363.5 L436.4 358.4 L436.9 359.4 L437.4 365.8 L437.9 359.1 L438.4 364.6 L438.9 364.4 L439.4 363.7 L439.9 368.3 L440.4 360.7 L440.9 362.1 L441.4 357.2 L441.9 360.2 L442.4 362.1 L442.9 362.9 L443.4 363.8 L443.9 365.7 L444.4 363.3 L444.9 359.9 L445.4 366.4 L445.9 367.2 L446.4 362.6 L446.9 363.7 L447.4 371.1 L447.9 369.0 L448.4 369.2 L448.9 367.9 L449.4 366.5 L449.9 365.1 L450.4 368.7 L450.9 367.0 L451.4 366.8 L451.9 368.5 L452.4 368.8 L452.9 372.0 L453.4 366.7 L453.9 377.0 L454.4 367.0 L454.9 368.8 L455.4 373.0 L455.9 368.0 L456.4 369.2 L456.9 370.7 L457.4 361.8 L457.9 368.8 L458.4 367.3 L458.9 369.2 L459.4 371.2 L459.9 371.4 L460.4 373.8 L460.9 373.6 L461.4 372.5 L461.9 369.5 L462.4 372.9 L462.9 367.1 L463.4 369.8 L463.9 374.5 L464.4 372.7 L464.9 366.4 L465.4 368.8 L465.9 373.2 L466.4 372.4 L466.9 373.7 L467.4 365.4 L467.9 367.3 L468.4 370.8 L468.9 369.1 L469.4 372.4 L469.9 373.0 L470.4 374.4 L470.9 373.4 L471.4 375.8 L471.9 376.8 L472.4 375.4 L472.9 371.8 L473.4 379.5 L473.9 376.8 L474.4 377.8 L474.9 377.5 L475.4 372.4 L475.9 378.8 L476.4 375.3 L476.9 373.7 L477.4 381.1 L477.9 376.5 L478.4 378.2 L478.9 380.0 L479.4 382.2 L479.9 372.3 L480.4 375.5 L480.9 379.8 L481.4 376.0 L481.9 368.6 L482.4 378.7 L482.9 379.1 L483.4 380.9 L483.9 379.4 L484.4 377.6 L484.9 379.6 L485.4 379.2 L485.9 378.1 L486.4 380.6 L486.9 381.2 L487.4 377.5 L487.9 383.8 L488.4 383.5 L488.9 383.7 L489.4 373.7 L489.9 382.3 L490.4 381.8 L490.9 379.5 L491.4 384.3 L491.9 378.4 L492.4 386.6 L492.9 384.3 L493.4 381.9 L493.9 387.8 L494.4 385.2 L494.9 385.0 L495.4 380.5 L495.9 386.2 L496.4 389.1 L496.9 388.6 L497.4 381.9 L497.9 390.1 L498.4 391.1 L498.9 389.2 L499.4 386.0 L499.9 383.1 L500.4 384.8 L500.9 385.6 L501.4 388.0 L501.9 388.7 L502.4 384.8 L502.9 382.1 L503.4 385.6 L503.9 382.8 L504.4 390.5 L504.9 382.9 L505.4 388.2 L505.9 389.6 L506.4 384.7 L506.9 390.9 L507.4 387.9 L507.9 386.4 L508.4 386.3 L508.9 389.8 L509.4 393.0 L509.9 384.7 L510.4 392.4 L510.9 390.6 L511.4 389.1 L511.9 391.4 L512.4 392.0 L512.9 392.2 L513.4 395.1 L513.9 390.5 L514.4 399.2 L514.9 396.4 L515.4 392.2 L515.9 388.5 L516.4 394.2 L516.9 393.3 L517.4 396.8 L517.9 396.9 L518.4 400.5 L518.9 394.7 L519.4 397.6 L519.9 394.2 L520.4 394.7 L520.9 400.6 L521.4 396.2 L521.9 396.7 L522.4 396.3 L522.9 398.7 L523.4 399.9 L523.9 398.2 L524.4 395.6 L524.9 400.4 L525.4 397.1 L525.9 398.4 L526.4 400.1 L526.9 400.2 L527.4 392.7 L527.9 404.5 L528.4 401.8 L528.9 405.2 L529.4 406.9 L529.9 396.7 L530.4 397.8 L530.9 400.2 L531.4 402.2 L531.9 398.0 L532.4 398.5 L532.9 402.6 L533.4 396.9 L533.9 400.1 L534.4 402.6 L534.9 398.7 L535.4 401.3 L535.9 398.3 L536.4 393.5 L536.9 396.1 L537.4 396.6 L537.9 395.8 L538.4 396.4 L538.9 397.0 L539.4 396.2 L539.9 395.4 L540.4 393.2 L540.9 393.4 L541.4 392.6 L541.9 391.5 L542.4 396.8 L542.9 386.9 L543.4 392.7 L543.9 386.8 L544.4 389.4 L544.9 393.1 L545.4 389.8 L545.9 394.6 L546.4 387.7 L546.9 389.5 L547.4 388.5 L547.9 390.3 L548.4 389.3 L548.9 389.0 L549.4 390.3 L549.9 393.2 L550.4 390.2 L550.9 389.7 L551.4 388.4 L551.9 386.9 L552.4 384.5 L552.9 385.4 L553.4 388.3 L553.9 382.3 L554.4 389.6 L554.9 386.2 L555.4 384.4 L555.9 385.3 L556.4 388.5 L556.9 387.4 L557.4 387.7 L557.9 393.0 L558.4 395.5 L558.9 385.8 L559.4 393.0 L559.9 389.1 L560.4 387.7 L560.9 390.6 L561.4 395.4 L561.9 391.9 L562.4 391.7 L562.9 397.6 L563.4 395.3 L563.9 393.9 L564.4 399.8 L564.9 396.2 L565.4 393.1 L565.9 392.4 L566.4 394.7 L566.9 396.8 L567.4 399.4 L567.9 399.5 L568.4 397.7 L568.9 394.3 L569.4 400.8 L569.9 398.7 L570.4 395.6 L570.9 395.5 L571.4 400.1 L571.9 400.8 L572.4 402.5 L572.9 396.9 L573.4 406.4 L573.9 395.9 L574.4 401.4 L574.9 405.8 L575.4 405.1 L575.9 399.5 L576.4 404.3 L576.9 406.3 L577.4 405.0 L577.9 400.2 L578.4 408.1 L578.9 398.7 L579.4 403.8 L579.9 400.7 L580.4 402.8 L580.9 403.3 L581.4 406.0 L581.9 401.1 L582.4 405.7 L582.9 409.1 L583.4 405.8 L583.9 407.4 L584.4 407.3 L584.9 404.1 L585.4 405.5 L585.9 407.2 L586.4 408.8 L586.9 413.8 L587.4 413.0 L587.9 407.3 L588.4 407.8 L588.9 406.5 L589.4 403.1 L589.9 414.0 L590.4 412.1 L590.9 405.2 L591.4 411.3 L591.9 418.5 L592.4 413.4 L592.9 413.8 L593.4 413.3 L593.9 410.8 L594.4 410.0 L594.9 411.3 L595.4 414.3 L595.9 413.1 L596.4 415.9 L596.9 419.0 L597.4 415.6 L597.9 416.3 L598.4 412.8 L598.9 410.1 L599.4 420.2 L599.9 416.0 L600.4 417.6 L600.9 413.3 L601.4 409.8 L601.9 418.9 L602.4 409.0 L602.9 415.2 L603.4 414.3 L603.9 416.4 L604.4 417.9 L604.9 417.8 L605.4 409.0 L605.9 418.0 L606.4 409.3 L606.9 416.7 L607.4 413.3 L607.9 411.4 L608.4 413.4 L608.9 411.2 L609.4 415.2 L609.9 418.2 L610.4 418.0 L610.9 415.9 L611.4 419.2 L611.9 417.7 L612.4 422.8 L612.9 418.2 L613.4 415.2 L613.9 416.4 L614.4 415.2 L614.9 416.8 L615.4 417.5 L615.9 419.9 L616.4 420.2 L616.9 418.1 L617.4 419.2 L617.9 415.7 L618.4 416.3 L618.9 410.6 L619.4 415.7 L619.9 416.7 L620.4 426.0 L620.9 414.7 L621.4 419.1 L621.9 418.2 L622.4 414.8 L622.9 420.5 L623.4 419.9 L623.9 415.6 L624.4 413.0 L624.9 419.7 L625.4 415.7 L625.9 421.9 L626.4 419.1 L626.9 421.5 L627.4 418.9 L627.9 424.1 L628.4 421.2 L628.9 423.4 L629.4 418.9 L629.9 415.2 L630.4 413.7 L630.9 416.1 L631.4 418.2 L631.9 415.7 L632.4 425.1 L632.9 417.9 L633.4 419.7 L633.9 418.9 L634.4 415.1 L634.9 422.2 L635.4 421.2 L635.9 421.9 L636.4 416.5 L636.9 419.3 L637.4 419.1 L637.9 422.7 L638.4 415.1 L638.9 421.1 L639.4 422.9 L639.9 417.9 L640.4 416.5 L640.9 422.5 L641.4 419.0 L641.9 421.4 L642.4 420.0 L642.9 420.6 L643.4 416.7 L643.9 410.6 L644.4 418.4 L644.9 414.3 L645.4 417.9 L645.9 414.2 L646.4 420.3 L646.9 415.0 L647.4 418.6 L647.9 419.8 L648.4 416.7 L648.9 418.2 L649.4 417.6 L649.9 415.3 L650.4 422.8 L650.9 416.1 L651.4 414.5 L651.9 418.0 L652.4 420.3 L652.9 420.5 L653.4 419.6 L653.9 419.6 L654.4 415.0 L654.9 423.6 L655.4 427.2 L655.9 420.3 L656.4 417.5 L656.9 425.4 L657.4 423.0 L657.9 412.1 L658.4 422.0 L658.9 420.3 L659.4 421.5 L659.9 431.3 L660.4 428.7 L660.9 425.7 L661.4 426.6 L661.9 431.6 L662.4 424.0 L662.9 429.9 L663.4 426.2 L663.9 431.0 L664.4 429.5 L664.9 427.0 L665.4 432.8 L665.9 431.6 L666.4 435.8 L666.9 429.3 L667.4 431.2 L667.9 429.0 L668.4 434.9 L668.9 429.3 L669.4 431.7 L669.9 436.0 L670.4 433.9 L670.9 433.4 L671.4 433.6 L671.9 434.1 L672.4 435.2 L672.9 432.6 L673.4 427.7 L673.9 437.8 L674.4 430.8 L674.9 439.7 L675.4 435.2 L675.9 444.0 L676.4 438.2 L676.9 436.1 L677.4 437.7 L677.9 430.9 L678.4 435.8 L678.9 434.4 L679.4 435.7 L679.9 429.6 L680.4 429.7 L680.9 439.0 L681.4 437.6 L681.9 436.7 L682.4 438.3 L682.9 437.2 L683.4 438.3 L683.9 442.4 L684.4 440.2 L684.9 443.6 L685.4 439.7 L685.9 436.7 L686.4 440.5 L686.9 442.3 L687.4 439.7 L687.9 442.2 L688.4 442.1 L688.9 446.7 L689.4 446.8 L689.9 447.8 L690.4 442.2 L690.9 445.5 L691.4 448.3 L691.9 444.9 L692.4 444.1 L692.9 441.9 L693.4 446.7 L693.9 444.6 L694.4 447.0 L694.9 443.5 L695.4 450.0 L695.9 443.6 L696.4 439.8 L696.9 443.9 L697.4 444.6 L697.9 446.8 L698.4 441.3 L698.9 440.9 L699.4 441.6 L699.9 441.0 L700.4 435.5 L700.9 443.8 L701.4 445.1 L701.9 438.7 L702.4 437.8 L702.9 440.0 L703.4 437.7 L703.9 442.2 L704.4 437.7 L704.9 441.1 L705.4 435.2 L705.9 434.4 L706.4 433.7 L706.9 433.8 L707.4 439.1 L707.9 440.0 L708.4 437.7 L708.9 437.6 L709.4 430.0 L709.9 439.7 L710.4 432.3 L710.9 439.7 L711.4 442.7 L711.9 435.3 L712.4 436.7 L712.9 436.4 L713.4 430.3 L713.9 430.6 L714.4 431.6 L714.9 433.8 L715.4 435.9 L715.9 433.8 L716.4 436.8 L716.9 432.0 L717.4 429.4 L717.9 433.7 L718.4 433.5 L718.9 429.5 L719.4 436.9 L719.9 431.0 L720.4 431.4 L720.9 433.7 L721.4 429.4 L721.9 434.0 L722.4 432.8 L722.9 432.5 L723.4 430.7 L723.9 428.8 L724.4 427.5 L724.9 430.2 L725.4 433.1 L725.9 431.0 L726.4 429.5 L726.9 431.1 L727.4 431.8 L727.9 423.8 L728.4 427.1 L728.9 430.6 L729.4 424.7 L729.9 425.0 L730.4 427.8 L730.9 424.8 L731.4 428.6 L731.9 423.6 L732.4 425.8 L732.9 431.1 L733.4 426.6 L733.9 418.6 L734.4 419.1 L734.9 418.7 L735.4 421.1 L735.9 416.7 L736.4 422.1 L736.9 425.2 L737.4 424.3 L737.9 416.9 L738.4 417.9 L738.9 417.4 L739.4 415.4 L739.9 422.5 L740.4 415.0 L740.9 413.3 L741.4 417.3 L741.9 416.8 L742.4 419.9 L742.9 419.6 L743.4 414.0 L743.9 407.9 L744.4 415.8 L744.9 415.7 L745.4 418.1 L745.9 407.4 L746.4 407.9 L746.9 415.3 L747.4 414.8 L747.9 413.2 L748.4 408.6 L748.9 411.8 L749.4 405.7 L749.9 402.9 L750.4 405.5 L750.9 405.1 L751.4 406.2 L751.9 406.1 L752.4 396.7 L752.9 401.8 L753.4 401.4 L753.9 395.3 L754.4 397.3 L754.9 397.3 L755.4 397.4 L755.9 392.5 L756.4 392.2 L756.9 389.6 L757.4 392.8 L757.9 389.8 L758.4 387.9 L758.9 390.5 L759.4 386.5 L759.9 381.6 L760.4 386.8 L760.9 384.5 L761.4 381.2 L761.9 375.0 L762.4 379.5 L762.9 372.4 L763.4 366.4 L763.9 369.3 L764.4 372.9 L764.9 364.0 L765.4 363.6 L765.9 362.0 L766.4 354.7 L766.9 348.7 L767.4 344.0 L767.5 343.0" fill="none" stroke="#FFC000" stroke-width="3.6" stroke-linejoin="round" stroke-linecap="round"/>
<path d="M106.9 286.3 L107.4 278.1 L107.9 286.0 L108.4 282.3 L108.9 281.9 L109.4 281.8 L109.9 275.8 L110.4 280.4 L110.9 278.1 L111.4 289.7 L111.9 280.3 L112.4 278.1 L112.9 277.8 L113.4 276.2 L113.9 274.6 L114.4 276.0 L114.9 278.1 L115.4 275.5 L115.9 278.5 L116.4 274.8 L116.9 275.1 L117.4 279.1 L117.9 275.8 L118.4 272.3 L118.9 272.9 L119.4 274.4 L119.9 277.9 L120.4 270.9 L120.9 270.4 L121.4 271.8 L121.9 263.6 L122.4 262.7 L122.9 267.4 L123.4 268.9 L123.9 269.8 L124.4 271.8 L124.9 261.6 L125.4 272.6 L125.9 266.7 L126.4 264.6 L126.9 270.3 L127.4 271.6 L127.9 268.4 L128.4 266.6 L128.9 269.9 L129.4 269.7 L129.9 274.1 L130.4 272.0 L130.9 270.1 L131.4 272.5 L131.9 268.5 L132.4 266.1 L132.9 270.2 L133.4 270.0 L133.9 267.4 L134.4 265.3 L134.9 267.8 L135.4 259.5 L135.9 268.3 L136.4 267.3 L136.9 260.8 L137.4 265.3 L137.9 261.9 L138.4 266.6 L138.9 258.2 L139.4 261.1 L139.9 265.5 L140.4 266.5 L140.9 257.0 L141.4 262.2 L141.9 265.0 L142.4 262.6 L142.9 269.4 L143.4 261.7 L143.9 266.5 L144.4 262.6 L144.9 269.8 L145.4 265.7 L145.9 264.8 L146.4 260.9 L146.9 270.9 L147.4 267.8 L147.9 267.5 L148.4 268.2 L148.9 265.6 L149.4 262.4 L149.9 261.6 L150.4 261.6 L150.9 268.1 L151.4 260.1 L151.9 262.8 L152.4 263.8 L152.9 265.6 L153.4 267.4 L153.9 263.4 L154.4 263.3 L154.9 269.5 L155.4 274.3 L155.9 273.1 L156.4 270.8 L156.9 268.6 L157.4 269.7 L157.9 267.4 L158.4 269.8 L158.9 264.5 L159.4 266.9 L159.9 265.9 L160.4 267.5 L160.9 266.3 L161.4 272.7 L161.9 269.3 L162.4 269.3 L162.9 259.1 L163.4 264.0 L163.9 263.2 L164.4 266.5 L164.9 258.4 L165.4 268.6 L165.9 268.5 L166.4 261.8 L166.9 263.0 L167.4 263.7 L167.9 266.3 L168.4 268.3 L168.9 272.5 L169.4 266.2 L169.9 269.2 L170.4 267.6 L170.9 272.5 L171.4 269.9 L171.9 272.9 L172.4 267.0 L172.9 270.8 L173.4 270.2 L173.9 278.2 L174.4 276.9 L174.9 274.3 L175.4 274.0 L175.9 276.9 L176.4 273.6 L176.9 273.1 L177.4 277.4 L177.9 283.6 L178.4 276.3 L178.9 276.0 L179.4 274.7 L179.9 274.8 L180.4 280.8 L180.9 282.2 L181.4 280.0 L181.9 281.3 L182.4 281.0 L182.9 281.3 L183.4 276.8 L183.9 280.3 L184.4 282.3 L184.9 280.1 L185.4 281.4 L185.9 280.8 L186.4 282.6 L186.9 286.5 L187.4 283.4 L187.9 284.8 L188.4 288.2 L188.9 288.3 L189.4 292.0 L189.9 281.6 L190.4 290.6 L190.9 287.2 L191.4 289.4 L191.9 291.9 L192.4 293.0 L192.9 293.3 L193.4 291.2 L193.9 295.8 L194.4 290.7 L194.9 291.5 L195.4 294.6 L195.9 291.1 L196.4 299.4 L196.9 296.5 L197.4 300.4 L197.9 294.5 L198.4 293.9 L198.9 296.0 L199.4 297.9 L199.9 294.3 L200.4 297.3 L200.9 296.4 L201.4 301.3 L201.9 294.9 L202.4 300.1 L202.9 295.5 L203.4 294.7 L203.9 295.4 L204.4 293.9 L204.9 297.7 L205.4 300.3 L205.9 297.7 L206.4 299.0 L206.9 301.8 L207.4 297.8 L207.9 297.6 L208.4 296.3 L208.9 292.6 L209.4 299.6 L209.9 292.4 L210.4 299.5 L210.9 297.7 L211.4 301.1 L211.9 297.7 L212.4 295.8 L212.9 299.7 L213.4 297.4 L213.9 299.0 L214.4 300.1 L214.9 300.0 L215.4 300.3 L215.9 298.9 L216.4 301.2 L216.9 295.8 L217.4 301.5 L217.9 298.4 L218.4 305.1 L218.9 305.4 L219.4 296.0 L219.9 302.1 L220.4 301.2 L220.9 298.5 L221.4 303.3 L221.9 300.9 L222.4 297.6 L222.9 302.5 L223.4 303.3 L223.9 304.5 L224.4 301.2 L224.9 307.0 L225.4 307.8 L225.9 302.6 L226.4 304.1 L226.9 305.9 L227.4 304.6 L227.9 311.4 L228.4 307.0 L228.9 303.6 L229.4 304.3 L229.9 306.5 L230.4 313.7 L230.9 307.0 L231.4 308.3 L231.9 309.9 L232.4 308.7 L232.9 315.9 L233.4 308.2 L233.9 312.5 L234.4 311.7 L234.9 313.9 L235.4 309.6 L235.9 319.0 L236.4 314.4 L236.9 315.7 L237.4 313.8 L237.9 315.1 L238.4 319.6 L238.9 321.6 L239.4 321.7 L239.9 323.7 L240.4 323.0 L240.9 321.8 L241.4 324.8 L241.9 324.8 L242.4 323.5 L242.9 326.5 L243.4 328.8 L243.9 326.5 L244.4 325.4 L244.9 329.3 L245.4 333.6 L245.9 328.3 L246.4 329.5 L246.9 330.3 L247.4 335.1 L247.9 327.1 L248.4 334.4 L248.9 337.6 L249.4 332.5 L249.9 339.9 L250.4 337.9 L250.9 335.5 L251.4 338.4 L251.9 334.1 L252.4 337.5 L252.9 344.8 L253.4 337.2 L253.9 345.5 L254.4 340.2 L254.9 343.7 L255.4 340.9 L255.9 333.7 L256.4 338.0 L256.9 339.7 L257.4 335.3 L257.9 334.2 L258.4 338.6 L258.9 335.1 L259.4 332.4 L259.9 335.6 L260.4 340.4 L260.9 336.9 L261.4 341.3 L261.9 343.3 L262.4 339.3 L262.9 335.8 L263.4 335.0 L263.9 338.4 L264.4 340.7 L264.9 338.7 L265.4 339.1 L265.9 336.0 L266.4 337.8 L266.9 335.0 L267.4 335.0 L267.9 331.7 L268.4 330.3 L268.9 333.0 L269.4 330.7 L269.9 330.6 L270.4 335.4 L270.9 333.4 L271.4 342.3 L271.9 336.8 L272.4 332.4 L272.9 336.7 L273.4 335.7 L273.9 332.3 L274.4 336.1 L274.9 329.3 L275.4 321.3 L275.9 331.2 L276.4 325.7 L276.9 330.8 L277.4 324.2 L277.9 322.3 L278.4 329.8 L278.9 321.8 L279.4 325.1 L279.9 328.3 L280.4 324.0 L280.9 323.3 L281.4 323.7 L281.9 325.6 L282.4 320.7 L282.9 324.6 L283.4 324.4 L283.9 329.3 L284.4 321.4 L284.9 319.5 L285.4 324.2 L285.9 320.8 L286.4 322.7 L286.9 322.2 L287.4 325.1 L287.9 319.7 L288.4 321.3 L288.9 314.2 L289.4 319.2 L289.9 326.4 L290.4 320.1 L290.9 320.2 L291.4 318.8 L291.9 324.2 L292.4 323.1 L292.9 319.3 L293.4 324.6 L293.9 323.2 L294.4 324.5 L294.9 320.2 L295.4 327.0 L295.9 322.9 L296.4 321.2 L296.9 319.9 L297.4 320.5 L297.9 323.5 L298.4 320.0 L298.9 323.7 L299.4 322.1 L299.9 324.0 L300.4 322.1 L300.9 319.2 L301.4 313.5 L301.9 319.5 L302.4 320.5 L302.9 318.3 L303.4 319.1 L303.9 315.8 L304.4 315.7 L304.9 313.7 L305.4 320.0 L305.9 316.1 L306.4 313.9 L306.9 311.2 L307.4 314.4 L307.9 318.8 L308.4 315.7 L308.9 312.0 L309.4 318.0 L309.9 317.7 L310.4 316.2 L310.9 315.4 L311.4 316.2 L311.9 314.1 L312.4 314.5 L312.9 309.9 L313.4 316.3 L313.9 312.5 L314.4 317.6 L314.9 305.7 L315.4 313.5 L315.9 314.2 L316.4 310.2 L316.9 312.4 L317.4 313.1 L317.9 312.5 L318.4 309.1 L318.9 310.1 L319.4 313.3 L319.9 313.8 L320.4 310.2 L320.9 309.9 L321.4 310.0 L321.9 312.2 L322.4 305.9 L322.9 304.9 L323.4 308.9 L323.9 305.1 L324.4 306.4 L324.9 308.1 L325.4 309.0 L325.9 304.3 L326.4 309.5 L326.9 301.8 L327.4 308.3 L327.9 301.9 L328.4 302.5 L328.9 307.8 L329.4 304.6 L329.9 303.2 L330.4 304.0 L330.9 306.4 L331.4 304.7 L331.9 304.5 L332.4 307.5 L332.9 302.2 L333.4 302.7 L333.9 302.4 L334.4 307.2 L334.9 306.5 L335.4 307.2 L335.9 303.2 L336.4 302.7 L336.9 305.5 L337.4 301.7 L337.9 305.1 L338.4 304.7 L338.9 300.3 L339.4 301.8 L339.9 301.4 L340.4 306.4 L340.9 308.6 L341.4 300.5 L341.9 300.5 L342.4 293.5 L342.9 300.5 L343.4 299.5 L343.9 296.1 L344.4 301.2 L344.9 294.1 L345.4 297.7 L345.9 298.4 L346.4 294.1 L346.9 299.9 L347.4 300.2 L347.9 292.8 L348.4 292.4 L348.9 297.9 L349.4 295.8 L349.9 292.1 L350.4 294.4 L350.9 294.7 L351.4 294.3 L351.9 296.8 L352.4 295.2 L352.9 298.9 L353.4 297.5 L353.9 295.2 L354.4 296.1 L354.9 296.5 L355.4 294.4 L355.9 288.6 L356.4 294.3 L356.9 291.7 L357.4 295.9 L357.9 291.2 L358.4 292.2 L358.9 291.3 L359.4 294.9 L359.9 290.2 L360.4 288.6 L360.9 289.9 L361.4 287.4 L361.9 288.8 L362.4 288.0 L362.9 288.5 L363.4 292.9 L363.9 285.9 L364.4 286.8 L364.9 285.8 L365.4 287.9 L365.9 282.2 L366.4 283.3 L366.9 284.8 L367.4 286.1 L367.9 284.1 L368.4 282.4 L368.9 281.0 L369.4 284.6 L369.9 287.0 L370.4 283.8 L370.9 283.7 L371.4 284.7 L371.9 280.9 L372.4 283.0 L372.9 283.4 L373.4 285.3 L373.9 284.6 L374.4 280.8 L374.9 287.1 L375.4 288.2 L375.9 282.0 L376.4 283.5 L376.9 282.6 L377.4 283.6 L377.9 276.5 L378.4 284.8 L378.9 278.1 L379.4 282.5 L379.9 278.4 L380.4 276.3 L380.9 276.4 L381.4 278.7 L381.9 272.9 L382.4 274.3 L382.9 274.1 L383.4 270.6 L383.9 279.4 L384.4 277.4 L384.9 275.7 L385.4 279.3 L385.9 273.2 L386.4 275.5 L386.9 280.3 L387.4 277.7 L387.9 268.0 L388.4 264.4 L388.9 270.6 L389.4 276.3 L389.9 271.4 L390.4 271.9 L390.9 274.1 L391.4 269.6 L391.9 272.7 L392.4 274.2 L392.9 273.0 L393.4 272.7 L393.9 269.6 L394.4 272.1 L394.9 268.6 L395.4 272.8 L395.9 275.6 L396.4 265.2 L396.9 260.2 L397.4 264.5 L397.9 266.0 L398.4 267.5 L398.9 267.4 L399.4 261.7 L399.9 261.4 L400.4 267.2 L400.9 260.1 L401.4 266.2 L401.9 262.1 L402.4 264.4 L402.9 263.5 L403.4 263.1 L403.9 262.5 L404.4 256.6 L404.9 259.6 L405.4 258.2 L405.9 258.3 L406.4 260.1 L406.9 254.9 L407.4 252.7 L407.9 251.7 L408.4 252.0 L408.9 254.2 L409.4 248.4 L409.9 251.5 L410.4 246.3 L410.9 242.2 L411.4 236.9 L411.9 242.0 L412.4 243.8 L412.9 237.1 L413.4 246.2 L413.9 248.0 L414.4 244.0 L414.9 244.1 L415.4 249.4 L415.9 245.6 L416.4 241.0 L416.9 245.6 L417.4 247.1 L417.9 249.2 L418.4 242.8 L418.9 251.5 L419.4 247.1 L419.9 249.1 L420.4 247.8 L420.9 251.0 L421.4 248.8 L421.9 248.5 L422.4 253.5 L422.9 257.2 L423.4 253.2 L423.9 258.4 L424.4 255.6 L424.9 253.7 L425.4 260.1 L425.9 253.7 L426.4 259.4 L426.9 255.3 L427.4 258.3 L427.9 253.6 L428.4 254.9 L428.9 261.6 L429.4 264.3 L429.9 269.1 L430.4 264.7 L430.9 262.3 L431.4 254.0 L431.9 255.0 L432.4 257.9 L432.9 256.1 L433.4 256.7 L433.9 258.6 L434.4 258.5 L434.9 258.3 L435.4 263.9 L435.9 262.1 L436.4 262.8 L436.9 259.1 L437.4 257.4 L437.9 254.4 L438.4 257.3 L438.9 251.9 L439.4 256.0 L439.9 259.6 L440.4 261.8 L440.9 259.7 L441.4 254.2 L441.9 258.0 L442.4 254.1 L442.9 258.5 L443.4 255.7 L443.9 258.8 L444.4 264.1 L444.9 259.6 L445.4 264.0 L445.9 258.0 L446.4 256.9 L446.9 261.7 L447.4 262.3 L447.9 255.2 L448.4 256.5 L448.9 251.6 L449.4 254.7 L449.9 257.4 L450.4 254.8 L450.9 253.8 L451.4 251.7 L451.9 257.3 L452.4 258.9 L452.9 258.7 L453.4 258.1 L453.9 253.9 L454.4 262.9 L454.9 257.8 L455.4 257.7 L455.9 260.5 L456.4 252.3 L456.9 258.2 L457.4 257.2 L457.9 257.9 L458.4 259.9 L458.9 256.6 L459.4 249.1 L459.9 252.7 L460.4 254.4 L460.9 254.6 L461.4 250.8 L461.9 250.0 L462.4 256.8 L462.9 256.6 L463.4 255.9 L463.9 251.1 L464.4 261.4 L464.9 247.9 L465.4 255.4 L465.9 262.7 L466.4 256.3 L466.9 257.5 L467.4 253.6 L467.9 260.4 L468.4 252.3 L468.9 256.2 L469.4 255.4 L469.9 251.5 L470.4 256.6 L470.9 249.4 L471.4 250.9 L471.9 252.2 L472.4 250.5 L472.9 252.4 L473.4 253.1 L473.9 249.0 L474.4 248.7 L474.9 249.8 L475.4 251.2 L475.9 255.7 L476.4 253.7 L476.9 256.6 L477.4 255.7 L477.9 254.0 L478.4 259.4 L478.9 254.3 L479.4 257.8 L479.9 262.5 L480.4 255.7 L480.9 259.3 L481.4 255.6 L481.9 259.4 L482.4 257.2 L482.9 261.1 L483.4 261.3 L483.9 263.9 L484.4 268.8 L484.9 265.7 L485.4 267.5 L485.9 266.3 L486.4 266.5 L486.9 265.6 L487.4 263.6 L487.9 269.8 L488.4 275.2 L488.9 272.6 L489.4 270.5 L489.9 277.6 L490.4 272.1 L490.9 272.1 L491.4 270.9 L491.9 272.1 L492.4 274.7 L492.9 281.7 L493.4 275.8 L493.9 273.9 L494.4 275.6 L494.9 277.3 L495.4 273.7 L495.9 279.8 L496.4 282.2 L496.9 281.9 L497.4 283.5 L497.9 278.8 L498.4 278.4 L498.9 287.8 L499.4 288.0 L499.9 281.2 L500.4 286.7 L500.9 286.6 L501.4 288.5 L501.9 288.0 L502.4 286.3 L502.9 288.7 L503.4 289.0 L503.9 288.9 L504.4 284.0 L504.9 281.1 L505.4 287.9 L505.9 285.7 L506.4 291.5 L506.9 293.2 L507.4 292.2 L507.9 290.6 L508.4 292.2 L508.9 295.7 L509.4 290.5 L509.9 295.6 L510.4 295.6 L510.9 295.0 L511.4 299.1 L511.9 293.5 L512.4 299.0 L512.9 294.3 L513.4 295.4 L513.9 295.2 L514.4 300.3 L514.9 296.9 L515.4 300.2 L515.9 297.1 L516.4 303.8 L516.9 306.3 L517.4 301.9 L517.9 306.4 L518.4 303.5 L518.9 308.5 L519.4 302.8 L519.9 298.3 L520.4 306.8 L520.9 301.6 L521.4 298.4 L521.9 299.0 L522.4 295.7 L522.9 299.4 L523.4 296.3 L523.9 303.1 L524.4 300.3 L524.9 293.0 L525.4 293.5 L525.9 296.5 L526.4 292.8 L526.9 298.4 L527.4 298.8 L527.9 297.0 L528.4 297.9 L528.9 301.2 L529.4 304.1 L529.9 304.6 L530.4 300.2 L530.9 302.3 L531.4 297.4 L531.9 300.5 L532.4 296.3 L532.9 300.9 L533.4 294.9 L533.9 295.5 L534.4 298.0 L534.9 299.4 L535.4 293.2 L535.9 295.3 L536.4 296.8 L536.9 296.6 L537.4 293.0 L537.9 295.3 L538.4 293.7 L538.9 298.1 L539.4 295.2 L539.9 289.3 L540.4 286.0 L540.9 291.8 L541.4 294.1 L541.9 290.4 L542.4 291.6 L542.9 286.8 L543.4 283.5 L543.9 288.8 L544.4 286.1 L544.9 286.9 L545.4 280.3 L545.9 284.2 L546.4 281.2 L546.9 284.7 L547.4 280.1 L547.9 279.4 L548.4 278.8 L548.9 283.6 L549.4 279.3 L549.9 276.4 L550.4 275.3 L550.9 274.8 L551.4 281.8 L551.9 271.9 L552.4 274.4 L552.9 278.3 L553.4 279.5 L553.9 275.3 L554.4 277.7 L554.9 277.3 L555.4 277.4 L555.9 274.1 L556.4 278.1 L556.9 273.3 L557.4 276.6 L557.9 269.0 L558.4 275.2 L558.9 269.0 L559.4 268.5 L559.9 274.5 L560.4 270.9 L560.9 274.8 L561.4 270.6 L561.9 279.1 L562.4 275.2 L562.9 272.6 L563.4 277.2 L563.9 280.0 L564.4 275.9 L564.9 280.4 L565.4 285.6 L565.9 283.0 L566.4 281.3 L566.9 280.6 L567.4 284.8 L567.9 279.6 L568.4 276.1 L568.9 283.9 L569.4 283.6 L569.9 292.7 L570.4 288.9 L570.9 286.5 L571.4 286.8 L571.9 292.5 L572.4 289.5 L572.9 291.1 L573.4 293.4 L573.9 294.7 L574.4 295.7 L574.9 296.6 L575.4 300.9 L575.9 303.0 L576.4 294.2 L576.9 307.3 L577.4 301.1 L577.9 305.2 L578.4 300.3 L578.9 304.1 L579.4 304.5 L579.9 304.9 L580.4 307.8 L580.9 307.9 L581.4 303.9 L581.9 307.2 L582.4 310.3 L582.9 310.7 L583.4 308.3 L583.9 308.9 L584.4 309.8 L584.9 307.6 L585.4 307.6 L585.9 316.4 L586.4 311.1 L586.9 312.8 L587.4 310.6 L587.9 316.7 L588.4 318.3 L588.9 312.8 L589.4 315.2 L589.9 311.7 L590.4 319.3 L590.9 317.2 L591.4 312.5 L591.9 318.9 L592.4 316.7 L592.9 317.2 L593.4 317.4 L593.9 314.8 L594.4 315.6 L594.9 319.2 L595.4 317.5 L595.9 315.1 L596.4 323.9 L596.9 317.6 L597.4 316.8 L597.9 316.6 L598.4 320.8 L598.9 321.9 L599.4 320.0 L599.9 322.0 L600.4 315.5 L600.9 319.2 L601.4 319.3 L601.9 321.1 L602.4 322.9 L602.9 316.0 L603.4 331.4 L603.9 320.2 L604.4 324.1 L604.9 325.9 L605.4 326.2 L605.9 324.6 L606.4 315.7 L606.9 321.1 L607.4 326.7 L607.9 322.0 L608.4 321.8 L608.9 318.2 L609.4 328.8 L609.9 326.9 L610.4 323.1 L610.9 325.6 L611.4 325.9 L611.9 323.3 L612.4 326.0 L612.9 327.8 L613.4 329.0 L613.9 331.4 L614.4 328.1 L614.9 326.9 L615.4 329.7 L615.9 326.9 L616.4 325.2 L616.9 332.2 L617.4 327.9 L617.9 329.5 L618.4 331.1 L618.9 326.1 L619.4 331.3 L619.9 330.8 L620.4 329.4 L620.9 331.0 L621.4 328.0 L621.9 324.1 L622.4 330.0 L622.9 328.4 L623.4 333.9 L623.9 332.4 L624.4 330.4 L624.9 332.4 L625.4 336.5 L625.9 336.2 L626.4 334.2 L626.9 334.7 L627.4 333.0 L627.9 333.7 L628.4 336.1 L628.9 334.3 L629.4 335.8 L629.9 332.0 L630.4 330.7 L630.9 330.9 L631.4 334.7 L631.9 340.0 L632.4 339.7 L632.9 333.5 L633.4 332.0 L633.9 339.0 L634.4 338.1 L634.9 333.0 L635.4 340.1 L635.9 337.7 L636.4 341.2 L636.9 338.5 L637.4 340.1 L637.9 338.3 L638.4 334.6 L638.9 336.6 L639.4 335.2 L639.9 339.5 L640.4 334.1 L640.9 332.5 L641.4 338.8 L641.9 340.1 L642.4 340.9 L642.9 339.8 L643.4 332.2 L643.9 334.3 L644.4 334.6 L644.9 335.9 L645.4 329.5 L645.9 335.5 L646.4 336.2 L646.9 332.4 L647.4 335.3 L647.9 338.2 L648.4 334.7 L648.9 337.4 L649.4 337.1 L649.9 335.3 L650.4 335.5 L650.9 333.6 L651.4 338.5 L651.9 333.9 L652.4 333.5 L652.9 337.8 L653.4 334.0 L653.9 337.6 L654.4 339.7 L654.9 337.2 L655.4 337.5 L655.9 340.2 L656.4 340.0 L656.9 333.9 L657.4 335.0 L657.9 343.2 L658.4 341.0 L658.9 334.3 L659.4 336.9 L659.9 341.4 L660.4 339.0 L660.9 343.7 L661.4 343.1 L661.9 344.8 L662.4 340.5 L662.9 346.1 L663.4 350.0 L663.9 342.1 L664.4 348.3 L664.9 347.4 L665.4 346.4 L665.9 344.5 L666.4 341.3 L666.9 342.2 L667.4 347.0 L667.9 347.7 L668.4 348.5 L668.9 347.8 L669.4 347.7 L669.9 344.0 L670.4 341.9 L670.9 346.1 L671.4 347.1 L671.9 346.0 L672.4 341.5 L672.9 344.5 L673.4 341.9 L673.9 346.7 L674.4 343.4 L674.9 346.1 L675.4 347.6 L675.9 347.2 L676.4 351.0 L676.9 344.0 L677.4 341.0 L677.9 350.3 L678.4 351.8 L678.9 352.1 L679.4 348.9 L679.9 349.9 L680.4 348.8 L680.9 344.9 L681.4 347.2 L681.9 350.5 L682.4 347.6 L682.9 355.1 L683.4 345.5 L683.9 349.0 L684.4 353.8 L684.9 349.2 L685.4 348.0 L685.9 347.7 L686.4 349.9 L686.9 356.7 L687.4 353.8 L687.9 354.5 L688.4 351.8 L688.9 356.0 L689.4 353.9 L689.9 350.9 L690.4 352.3 L690.9 354.2 L691.4 357.0 L691.9 353.4 L692.4 355.0 L692.9 359.5 L693.4 351.3 L693.9 350.0 L694.4 356.4 L694.9 354.9 L695.4 353.3 L695.9 354.1 L696.4 352.2 L696.9 354.4 L697.4 351.7 L697.9 354.8 L698.4 348.9 L698.9 349.7 L699.4 352.2 L699.9 350.3 L700.4 353.4 L700.9 351.1 L701.4 349.4 L701.9 351.4 L702.4 349.0 L702.9 345.7 L703.4 346.7 L703.9 347.5 L704.4 348.2 L704.9 349.6 L705.4 351.7 L705.9 350.4 L706.4 353.7 L706.9 352.0 L707.4 347.5 L707.9 352.6 L708.4 351.0 L708.9 346.2 L709.4 348.4 L709.9 350.6 L710.4 348.1 L710.9 350.3 L711.4 348.4 L711.9 349.2 L712.4 346.2 L712.9 348.2 L713.4 346.0 L713.9 348.9 L714.4 342.0 L714.9 347.8 L715.4 350.3 L715.9 348.2 L716.4 346.3 L716.9 347.9 L717.4 343.7 L717.9 343.6 L718.4 344.9 L718.9 345.3 L719.4 348.4 L719.9 342.9 L720.4 348.3 L720.9 340.7 L721.4 342.8 L721.9 344.8 L722.4 348.1 L722.9 342.8 L723.4 338.1 L723.9 345.4 L724.4 343.9 L724.9 340.7 L725.4 340.6 L725.9 341.4 L726.4 343.5 L726.9 345.0 L727.4 338.6 L727.9 349.3 L728.4 342.2 L728.9 340.8 L729.4 343.5 L729.9 341.5 L730.4 347.5 L730.9 343.6 L731.4 338.9 L731.9 338.5 L732.4 337.8 L732.9 337.9 L733.4 340.5 L733.9 336.3 L734.4 342.4 L734.9 337.2 L735.4 336.7 L735.9 339.6 L736.4 330.8 L736.9 333.5 L737.4 337.7 L737.9 335.6 L738.4 335.3 L738.9 336.1 L739.4 332.9 L739.9 333.9 L740.4 330.1 L740.9 328.3 L741.4 336.9 L741.9 330.0 L742.4 330.1 L742.9 335.8 L743.4 334.3 L743.9 329.2 L744.4 328.7 L744.9 329.5 L745.4 326.4 L745.9 330.3 L746.4 328.6 L746.9 328.1 L747.4 329.4 L747.9 328.8 L748.4 331.6 L748.9 330.1 L749.4 320.3 L749.9 327.3 L750.4 321.0 L750.9 319.6 L751.4 325.3 L751.9 320.7 L752.4 321.3 L752.9 324.8 L753.4 319.3 L753.9 318.1 L754.4 320.8 L754.9 322.7 L755.4 319.9 L755.9 313.1 L756.4 315.0 L756.9 315.6 L757.4 320.9 L757.9 317.1 L758.4 316.3 L758.9 316.5 L759.4 311.2 L759.9 312.2 L760.4 310.9 L760.9 305.3 L761.4 306.8 L761.9 307.1 L762.4 301.1 L762.9 305.2 L763.4 303.7 L763.9 303.2 L764.4 295.9 L764.9 295.5 L765.4 296.3 L765.9 291.4 L766.4 283.7 L766.9 284.1 L767.3 281.5" fill="none" stroke="#5B9BD5" stroke-width="3.6" stroke-linejoin="round" stroke-linecap="round"/>
<path d="M106.7 218.1 L107.2 215.0 L107.7 213.6 L108.2 206.3 L108.7 216.5 L109.2 213.0 L109.7 207.5 L110.2 210.4 L110.7 208.7 L111.2 206.1 L111.7 210.2 L112.2 206.3 L112.7 205.7 L113.2 202.7 L113.7 204.5 L114.2 201.2 L114.7 201.3 L115.2 196.4 L115.7 197.0 L116.2 193.6 L116.7 197.9 L117.2 195.6 L117.7 195.5 L118.2 195.2 L118.7 190.3 L119.2 193.8 L119.7 195.9 L120.2 184.1 L120.7 182.3 L121.2 181.5 L121.7 186.9 L122.2 184.1 L122.7 186.0 L123.2 184.2 L123.7 182.1 L124.2 181.5 L124.7 179.3 L125.2 181.2 L125.7 174.6 L126.2 175.6 L126.7 176.5 L127.2 179.8 L127.7 171.5 L128.2 169.4 L128.7 169.6 L129.2 172.7 L129.7 168.1 L130.2 171.2 L130.7 161.9 L131.2 170.6 L131.7 170.6 L132.2 164.0 L132.7 168.6 L133.2 171.9 L133.7 168.3 L134.2 170.4 L134.7 173.7 L135.2 167.4 L135.7 165.3 L136.2 163.4 L136.7 166.9 L137.2 164.2 L137.7 164.0 L138.2 164.0 L138.7 165.9 L139.2 160.9 L139.7 159.4 L140.2 156.7 L140.7 166.7 L141.2 162.9 L141.7 166.3 L142.2 161.5 L142.7 158.8 L143.2 161.7 L143.7 159.5 L144.2 155.6 L144.7 156.6 L145.2 164.2 L145.7 160.5 L146.2 161.0 L146.7 159.3 L147.2 158.4 L147.7 162.5 L148.2 159.1 L148.7 156.7 L149.2 157.8 L149.7 155.1 L150.2 157.5 L150.7 159.5 L151.2 153.8 L151.7 161.2 L152.2 156.5 L152.7 159.9 L153.2 158.2 L153.7 161.1 L154.2 162.6 L154.7 160.4 L155.2 158.8 L155.7 158.0 L156.2 156.8 L156.7 154.5 L157.2 158.2 L157.7 160.0 L158.2 161.4 L158.7 160.7 L159.2 165.8 L159.7 159.4 L160.2 156.7 L160.7 162.7 L161.2 154.0 L161.7 159.1 L162.2 153.2 L162.7 156.9 L163.2 150.4 L163.7 158.4 L164.2 155.5 L164.7 153.2 L165.2 160.6 L165.7 158.0 L166.2 156.1 L166.7 154.0 L167.2 156.1 L167.7 155.8 L168.2 158.4 L168.7 158.7 L169.2 154.7 L169.7 155.3 L170.2 156.2 L170.7 154.7 L171.2 157.6 L171.7 159.8 L172.2 162.8 L172.7 165.4 L173.2 160.2 L173.7 164.8 L174.2 162.9 L174.7 170.7 L175.2 165.6 L175.7 168.1 L176.2 164.9 L176.7 166.2 L177.2 169.9 L177.7 169.1 L178.2 172.1 L178.7 167.6 L179.2 174.7 L179.7 171.2 L180.2 179.5 L180.7 174.8 L181.2 179.7 L181.7 173.6 L182.2 179.7 L182.7 176.9 L183.2 179.0 L183.7 181.4 L184.2 181.4 L184.7 184.0 L185.2 186.2 L185.7 186.9 L186.2 185.7 L186.7 183.0 L187.2 185.5 L187.7 188.1 L188.2 183.6 L188.7 192.5 L189.2 190.6 L189.7 191.5 L190.2 195.5 L190.7 195.2 L191.2 194.4 L191.7 191.5 L192.2 195.6 L192.7 196.2 L193.2 193.2 L193.7 199.1 L194.2 198.1 L194.7 191.6 L195.2 197.9 L195.7 194.5 L196.2 201.7 L196.7 201.3 L197.2 196.4 L197.7 197.5 L198.2 200.7 L198.7 200.2 L199.2 205.6 L199.7 203.9 L200.2 201.3 L200.7 203.7 L201.2 196.4 L201.7 203.0 L202.2 204.5 L202.7 201.6 L203.2 200.1 L203.7 203.7 L204.2 207.6 L204.7 202.7 L205.2 198.9 L205.7 205.9 L206.2 196.4 L206.7 202.9 L207.2 199.7 L207.7 203.8 L208.2 198.6 L208.7 204.5 L209.2 201.5 L209.7 195.7 L210.2 194.7 L210.7 199.0 L211.2 203.2 L211.7 199.5 L212.2 199.0 L212.7 197.8 L213.2 200.2 L213.7 198.8 L214.2 198.2 L214.7 194.3 L215.2 200.1 L215.7 200.5 L216.2 193.0 L216.7 203.0 L217.2 198.6 L217.7 195.1 L218.2 191.1 L218.7 198.2 L219.2 197.9 L219.7 194.6 L220.2 191.2 L220.7 199.5 L221.2 194.8 L221.7 195.3 L222.2 204.7 L222.7 202.8 L223.2 199.6 L223.7 195.8 L224.2 199.0 L224.7 190.9 L225.2 197.9 L225.7 195.9 L226.2 194.9 L226.7 194.6 L227.2 200.9 L227.7 200.2 L228.2 200.9 L228.7 203.2 L229.2 199.0 L229.7 198.4 L230.2 197.6 L230.7 202.7 L231.2 206.8 L231.7 205.4 L232.2 208.7 L232.7 204.7 L233.2 207.8 L233.7 208.0 L234.2 207.8 L234.7 217.6 L235.2 216.0 L235.7 213.1 L236.2 214.6 L236.7 218.2 L237.2 215.8 L237.7 222.7 L238.2 219.4 L238.7 223.5 L239.2 223.3 L239.7 226.5 L240.2 225.8 L240.7 226.7 L241.2 230.1 L241.7 232.5 L242.2 235.0 L242.7 237.5 L243.2 243.0 L243.7 242.5 L244.2 241.0 L244.7 245.2 L245.2 242.7 L245.7 250.3 L246.2 249.4 L246.7 245.6 L247.2 253.2 L247.7 254.9 L248.2 246.7 L248.7 253.7 L249.2 256.1 L249.7 253.6 L250.2 257.5 L250.7 259.1 L251.2 264.5 L251.7 265.2 L252.2 272.9 L252.7 265.8 L253.2 271.4 L253.7 269.6 L254.2 271.4 L254.7 268.7 L255.2 267.5 L255.7 270.9 L256.2 275.5 L256.7 278.0 L257.2 275.5 L257.7 275.5 L258.2 272.0 L258.7 278.9 L259.2 278.6 L259.7 273.7 L260.2 275.3 L260.7 272.8 L261.2 279.9 L261.7 277.1 L262.2 275.9 L262.7 277.5 L263.2 277.8 L263.7 275.6 L264.2 273.5 L264.7 273.6 L265.2 272.4 L265.7 278.4 L266.2 283.2 L266.7 272.1 L267.2 277.1 L267.7 277.7 L268.2 273.7 L268.7 276.9 L269.2 273.1 L269.7 279.4 L270.2 274.2 L270.7 275.8 L271.2 277.1 L271.7 273.7 L272.2 269.5 L272.7 272.7 L273.2 276.0 L273.7 273.3 L274.2 273.9 L274.7 269.9 L275.2 273.0 L275.7 274.5 L276.2 272.3 L276.7 277.4 L277.2 271.2 L277.7 268.7 L278.2 266.9 L278.7 274.4 L279.2 270.9 L279.7 273.7 L280.2 271.9 L280.7 275.1 L281.2 273.9 L281.7 269.2 L282.2 270.9 L282.7 273.0 L283.2 266.3 L283.7 273.7 L284.2 272.9 L284.7 272.1 L285.2 268.7 L285.7 270.0 L286.2 265.9 L286.7 269.0 L287.2 267.1 L287.7 268.8 L288.2 267.1 L288.7 269.1 L289.2 271.5 L289.7 264.4 L290.2 270.6 L290.7 262.4 L291.2 261.9 L291.7 267.7 L292.2 268.0 L292.7 269.2 L293.2 263.4 L293.7 267.8 L294.2 268.4 L294.7 271.5 L295.2 267.7 L295.7 269.6 L296.2 265.4 L296.7 267.6 L297.2 267.0 L297.7 270.2 L298.2 265.6 L298.7 266.0 L299.2 270.0 L299.7 273.5 L300.2 269.5 L300.7 269.2 L301.2 267.3 L301.7 271.2 L302.2 269.6 L302.7 272.9 L303.2 268.8 L303.7 265.2 L304.2 266.1 L304.7 264.9 L305.2 264.0 L305.7 270.8 L306.2 269.2 L306.7 263.2 L307.2 271.4 L307.7 266.9 L308.2 263.3 L308.7 266.8 L309.2 265.2 L309.7 263.0 L310.2 259.5 L310.7 265.0 L311.2 265.6 L311.7 257.4 L312.2 266.1 L312.7 266.2 L313.2 263.0 L313.7 264.6 L314.2 263.4 L314.7 261.7 L315.2 262.9 L315.7 267.5 L316.2 259.5 L316.7 264.1 L317.2 263.8 L317.7 261.1 L318.2 261.7 L318.7 258.8 L319.2 260.2 L319.7 262.4 L320.2 263.1 L320.7 259.3 L321.2 270.0 L321.7 259.5 L322.2 261.1 L322.7 259.7 L323.2 258.9 L323.7 263.3 L324.2 257.9 L324.7 262.7 L325.2 261.6 L325.7 254.8 L326.2 260.0 L326.7 254.6 L327.2 263.4 L327.7 254.0 L328.2 251.8 L328.7 248.4 L329.2 249.5 L329.7 250.8 L330.2 249.1 L330.7 248.1 L331.2 249.3 L331.7 250.4 L332.2 254.7 L332.7 245.6 L333.2 248.5 L333.7 247.0 L334.2 245.2 L334.7 245.5 L335.2 246.1 L335.7 249.9 L336.2 246.7 L336.7 245.0 L337.2 247.5 L337.7 245.9 L338.2 243.7 L338.7 244.7 L339.2 240.6 L339.7 244.0 L340.2 243.0 L340.7 240.3 L341.2 237.7 L341.7 245.1 L342.2 240.9 L342.7 248.9 L343.2 238.2 L343.7 242.2 L344.2 238.4 L344.7 240.3 L345.2 241.9 L345.7 237.3 L346.2 239.3 L346.7 240.0 L347.2 239.8 L347.7 242.7 L348.2 245.7 L348.7 245.5 L349.2 241.8 L349.7 238.0 L350.2 235.2 L350.7 235.6 L351.2 235.5 L351.7 238.2 L352.2 234.6 L352.7 231.4 L353.2 235.9 L353.7 231.1 L354.2 230.5 L354.7 231.2 L355.2 232.4 L355.7 223.6 L356.2 226.5 L356.7 229.4 L357.2 227.1 L357.7 225.0 L358.2 225.2 L358.7 229.8 L359.2 223.9 L359.7 226.6 L360.2 226.2 L360.7 222.1 L361.2 224.0 L361.7 220.9 L362.2 219.8 L362.7 217.8 L363.2 222.7 L363.7 218.6 L364.2 217.9 L364.7 216.0 L365.2 223.9 L365.7 220.6 L366.2 217.8 L366.7 215.9 L367.2 213.3 L367.7 218.1 L368.2 217.7 L368.7 212.5 L369.2 219.2 L369.7 217.6 L370.2 212.3 L370.7 212.9 L371.2 212.8 L371.7 213.9 L372.2 212.6 L372.7 208.1 L373.2 216.7 L373.7 213.3 L374.2 215.9 L374.7 215.7 L375.2 211.5 L375.7 212.9 L376.2 213.9 L376.7 213.9 L377.2 211.2 L377.7 209.8 L378.2 211.5 L378.7 209.0 L379.2 209.6 L379.7 205.3 L380.2 211.1 L380.7 207.8 L381.2 208.9 L381.7 210.1 L382.2 210.8 L382.7 215.0 L383.2 210.0 L383.7 205.3 L384.2 209.3 L384.7 207.1 L385.2 209.6 L385.7 206.3 L386.2 206.0 L386.7 206.2 L387.2 205.5 L387.7 201.9 L388.2 204.8 L388.7 206.3 L389.2 209.3 L389.7 204.8 L390.2 204.3 L390.7 206.6 L391.2 206.1 L391.7 208.6 L392.2 205.2 L392.7 202.9 L393.2 206.1 L393.7 206.1 L394.2 199.9 L394.7 201.1 L395.2 195.3 L395.7 198.5 L396.2 196.4 L396.7 197.7 L397.2 196.3 L397.7 196.6 L398.2 196.2 L398.7 197.3 L399.2 195.9 L399.7 193.1 L400.2 190.5 L400.7 196.9 L401.2 196.9 L401.7 191.1 L402.2 193.5 L402.7 187.1 L403.2 186.5 L403.7 189.6 L404.2 194.0 L404.7 186.5 L405.2 186.6 L405.7 192.8 L406.2 182.1 L406.7 188.3 L407.2 187.0 L407.7 184.1 L408.2 184.3 L408.7 190.2 L409.2 178.8 L409.7 180.2 L410.2 179.7 L410.7 178.1 L411.2 175.9 L411.7 183.8 L412.2 179.6 L412.7 173.8 L413.2 176.4 L413.7 179.2 L414.2 178.8 L414.7 173.3 L415.2 176.8 L415.7 177.9 L416.2 178.8 L416.7 179.3 L417.2 173.6 L417.7 184.4 L418.2 180.4 L418.7 185.3 L419.2 188.8 L419.7 180.8 L420.2 177.7 L420.7 183.4 L421.2 180.2 L421.7 179.2 L422.2 177.3 L422.7 184.7 L423.2 178.5 L423.7 175.4 L424.2 177.5 L424.7 175.1 L425.2 178.2 L425.7 176.1 L426.2 173.8 L426.7 178.0 L427.2 174.0 L427.7 177.3 L428.2 178.3 L428.7 173.3 L429.2 172.0 L429.7 173.9 L430.2 175.3 L430.7 172.3 L431.2 172.2 L431.7 171.2 L432.2 171.7 L432.7 172.0 L433.2 167.6 L433.7 167.6 L434.2 168.4 L434.7 165.8 L435.2 167.4 L435.7 167.9 L436.2 166.3 L436.7 164.7 L437.2 164.3 L437.7 171.4 L438.2 169.0 L438.7 163.4 L439.2 164.3 L439.7 171.9 L440.2 170.7 L440.7 166.2 L441.2 168.5 L441.7 160.5 L442.2 164.1 L442.7 165.6 L443.2 157.7 L443.7 160.1 L444.2 163.9 L444.7 164.3 L445.2 158.8 L445.7 160.5 L446.2 163.4 L446.7 157.1 L447.2 153.7 L447.7 156.5 L448.2 154.8 L448.7 158.7 L449.2 154.8 L449.7 151.3 L450.2 159.7 L450.7 151.1 L451.2 153.4 L451.7 153.6 L452.2 153.5 L452.7 151.4 L453.2 152.1 L453.7 149.9 L454.2 145.7 L454.7 148.6 L455.2 148.2 L455.7 147.7 L456.2 148.1 L456.7 145.4 L457.2 150.3 L457.7 150.5 L458.2 139.4 L458.7 145.0 L459.2 142.5 L459.7 136.6 L460.2 144.6 L460.7 141.4 L461.2 141.7 L461.7 140.6 L462.2 145.1 L462.7 145.2 L463.2 142.4 L463.7 143.8 L464.2 141.7 L464.7 142.7 L465.2 140.3 L465.7 142.4 L466.2 140.4 L466.7 144.3 L467.2 146.5 L467.7 146.0 L468.2 149.3 L468.7 154.4 L469.2 141.9 L469.7 148.2 L470.2 146.9 L470.7 147.4 L471.2 145.1 L471.7 149.3 L472.2 148.7 L472.7 147.9 L473.2 149.2 L473.7 148.8 L474.2 145.0 L474.7 155.5 L475.2 152.7 L475.7 151.9 L476.2 156.4 L476.7 154.7 L477.2 151.5 L477.7 161.0 L478.2 154.3 L478.7 158.9 L479.2 160.3 L479.7 164.2 L480.2 164.3 L480.7 161.9 L481.2 159.8 L481.7 161.2 L482.2 166.3 L482.7 169.1 L483.2 166.5 L483.7 164.1 L484.2 169.7 L484.7 166.6 L485.2 167.4 L485.7 168.7 L486.2 172.0 L486.7 172.2 L487.2 175.1 L487.7 177.0 L488.2 175.8 L488.7 168.8 L489.2 171.6 L489.7 177.8 L490.2 178.1 L490.7 185.4 L491.2 180.2 L491.7 180.9 L492.2 185.0 L492.7 186.3 L493.2 183.7 L493.7 186.7 L494.2 183.2 L494.7 184.5 L495.2 191.3 L495.7 184.7 L496.2 191.9 L496.7 192.0 L497.2 193.0 L497.7 194.1 L498.2 193.9 L498.7 186.3 L499.2 189.0 L499.7 189.6 L500.2 193.4 L500.7 187.1 L501.2 187.8 L501.7 188.3 L502.2 192.5 L502.7 185.0 L503.2 186.6 L503.7 193.5 L504.2 187.2 L504.7 195.4 L505.2 194.6 L505.7 192.8 L506.2 197.4 L506.7 197.1 L507.2 201.0 L507.7 202.2 L508.2 206.0 L508.7 202.4 L509.2 203.4 L509.7 202.1 L510.2 204.3 L510.7 207.9 L511.2 200.3 L511.7 208.3 L512.2 205.7 L512.7 208.1 L513.2 209.6 L513.7 211.8 L514.2 210.8 L514.7 209.8 L515.2 212.3 L515.7 211.8 L516.2 211.4 L516.7 212.9 L517.2 215.1 L517.7 213.3 L518.2 213.6 L518.7 209.9 L519.2 213.4 L519.7 208.9 L520.2 216.4 L520.7 212.0 L521.2 218.4 L521.7 223.4 L522.2 214.1 L522.7 219.1 L523.2 216.7 L523.7 214.3 L524.2 213.7 L524.7 217.8 L525.2 220.3 L525.7 217.5 L526.2 212.3 L526.7 213.6 L527.2 215.9 L527.7 220.3 L528.2 217.3 L528.7 217.4 L529.2 219.9 L529.7 215.9 L530.2 216.3 L530.7 215.5 L531.2 210.0 L531.7 215.1 L532.2 213.8 L532.7 214.3 L533.2 207.1 L533.7 207.1 L534.2 210.8 L534.7 208.0 L535.2 209.7 L535.7 202.2 L536.2 203.9 L536.7 200.2 L537.2 201.7 L537.7 198.2 L538.2 199.8 L538.7 200.1 L539.2 197.5 L539.7 189.1 L540.2 195.4 L540.7 192.6 L541.2 187.0 L541.7 185.9 L542.2 187.0 L542.7 187.1 L543.2 182.8 L543.7 178.1 L544.2 182.0 L544.7 180.5 L545.2 185.6 L545.7 173.9 L546.2 183.4 L546.7 179.9 L547.2 174.7 L547.7 177.2 L548.2 171.6 L548.7 173.3 L549.2 167.9 L549.7 169.5 L550.2 165.8 L550.7 163.6 L551.2 166.7 L551.7 164.9 L552.2 167.8 L552.7 169.2 L553.2 164.8 L553.7 165.1 L554.2 165.1 L554.7 159.5 L555.2 164.6 L555.7 163.5 L556.2 163.0 L556.7 159.7 L557.2 156.9 L557.7 161.5 L558.2 162.9 L558.7 165.5 L559.2 164.6 L559.7 165.3 L560.2 162.0 L560.7 163.9 L561.2 160.9 L561.7 164.0 L562.2 165.6 L562.7 171.2 L563.2 165.1 L563.7 161.6 L564.2 169.8 L564.7 164.5 L565.2 167.8 L565.7 168.8 L566.2 168.7 L566.7 176.7 L567.2 176.2 L567.7 174.5 L568.2 178.1 L568.7 178.3 L569.2 183.0 L569.7 182.0 L570.2 182.8 L570.7 185.0 L571.2 187.4 L571.7 191.3 L572.2 189.7 L572.7 193.9 L573.2 197.2 L573.7 204.1 L574.2 201.4 L574.7 192.2 L575.2 200.7 L575.7 202.5 L576.2 206.0 L576.7 211.1 L577.2 210.3 L577.7 202.8 L578.2 211.1 L578.7 211.6 L579.2 213.4 L579.7 217.0 L580.2 211.2 L580.7 218.3 L581.2 211.6 L581.7 217.2 L582.2 218.8 L582.7 224.7 L583.2 217.0 L583.7 214.8 L584.2 222.1 L584.7 219.0 L585.2 225.9 L585.7 220.1 L586.2 220.1 L586.7 226.6 L587.2 223.8 L587.7 226.9 L588.2 220.5 L588.7 229.6 L589.2 223.9 L589.7 228.3 L590.2 223.7 L590.7 222.7 L591.2 226.8 L591.7 228.5 L592.2 232.9 L592.7 230.0 L593.2 231.5 L593.7 231.8 L594.2 239.2 L594.7 228.7 L595.2 235.0 L595.7 231.6 L596.2 233.2 L596.7 231.5 L597.2 236.8 L597.7 230.5 L598.2 230.9 L598.7 234.9 L599.2 233.1 L599.7 239.2 L600.2 240.7 L600.7 236.9 L601.2 242.1 L601.7 239.0 L602.2 241.6 L602.7 243.2 L603.2 249.9 L603.7 246.1 L604.2 245.1 L604.7 246.5 L605.2 253.9 L605.7 247.4 L606.2 252.2 L606.7 253.6 L607.2 248.9 L607.7 255.4 L608.2 260.5 L608.7 259.4 L609.2 257.2 L609.7 262.7 L610.2 263.2 L610.7 268.3 L611.2 261.0 L611.7 262.5 L612.2 264.2 L612.7 264.2 L613.2 265.3 L613.7 265.3 L614.2 264.2 L614.7 262.1 L615.2 265.4 L615.7 263.5 L616.2 264.8 L616.7 266.6 L617.2 269.9 L617.7 271.2 L618.2 266.3 L618.7 270.5 L619.2 272.0 L619.7 269.8 L620.2 265.4 L620.7 264.1 L621.2 272.5 L621.7 272.9 L622.2 271.3 L622.7 267.7 L623.2 274.8 L623.7 274.3 L624.2 270.8 L624.7 270.4 L625.2 265.7 L625.7 273.3 L626.2 266.8 L626.7 273.3 L627.2 273.5 L627.7 271.8 L628.2 276.1 L628.7 270.8 L629.2 273.4 L629.7 274.1 L630.2 272.6 L630.7 270.6 L631.2 275.0 L631.7 272.6 L632.2 270.8 L632.7 270.7 L633.2 271.4 L633.7 277.3 L634.2 271.1 L634.7 270.0 L635.2 267.7 L635.7 267.2 L636.2 265.2 L636.7 271.1 L637.2 270.5 L637.7 267.5 L638.2 266.1 L638.7 269.3 L639.2 268.7 L639.7 266.3 L640.2 270.9 L640.7 270.4 L641.2 269.8 L641.7 272.0 L642.2 268.0 L642.7 273.6 L643.2 266.9 L643.7 271.2 L644.2 271.5 L644.7 268.9 L645.2 270.6 L645.7 266.0 L646.2 265.3 L646.7 268.9 L647.2 267.4 L647.7 271.1 L648.2 269.5 L648.7 271.2 L649.2 270.3 L649.7 270.0 L650.2 269.7 L650.7 268.5 L651.2 268.2 L651.7 275.2 L652.2 264.6 L652.7 269.1 L653.2 272.4 L653.7 270.8 L654.2 273.6 L654.7 271.2 L655.2 266.1 L655.7 268.8 L656.2 265.8 L656.7 272.4 L657.2 273.7 L657.7 268.4 L658.2 271.1 L658.7 268.5 L659.2 265.6 L659.7 268.3 L660.2 265.1 L660.7 267.9 L661.2 270.1 L661.7 271.5 L662.2 273.1 L662.7 268.5 L663.2 270.1 L663.7 270.6 L664.2 270.9 L664.7 261.4 L665.2 267.1 L665.7 271.4 L666.2 266.0 L666.7 269.8 L667.2 271.4 L667.7 263.6 L668.2 268.4 L668.7 269.5 L669.2 268.8 L669.7 264.4 L670.2 269.6 L670.7 267.0 L671.2 270.8 L671.7 269.6 L672.2 266.8 L672.7 268.8 L673.2 266.4 L673.7 266.3 L674.2 263.9 L674.7 267.6 L675.2 270.5 L675.7 268.5 L676.2 268.1 L676.7 266.4 L677.2 266.7 L677.7 270.2 L678.2 263.9 L678.7 273.9 L679.2 267.9 L679.7 274.2 L680.2 271.3 L680.7 266.9 L681.2 270.1 L681.7 268.8 L682.2 269.5 L682.7 270.4 L683.2 266.7 L683.7 266.5 L684.2 267.1 L684.7 264.5 L685.2 267.6 L685.7 269.1 L686.2 269.2 L686.7 269.0 L687.2 267.4 L687.7 270.8 L688.2 262.9 L688.7 267.5 L689.2 267.7 L689.7 271.1 L690.2 270.4 L690.7 270.8 L691.2 268.5 L691.7 271.1 L692.2 265.6 L692.7 268.6 L693.2 262.4 L693.7 273.1 L694.2 272.7 L694.7 266.5 L695.2 265.8 L695.7 262.3 L696.2 263.8 L696.7 268.4 L697.2 267.7 L697.7 264.0 L698.2 266.8 L698.7 266.3 L699.2 269.5 L699.7 270.2 L700.2 267.7 L700.7 268.6 L701.2 268.3 L701.7 262.5 L702.2 268.9 L702.7 268.3 L703.2 270.6 L703.7 263.4 L704.2 270.7 L704.7 266.8 L705.2 269.3 L705.7 271.9 L706.2 264.3 L706.7 264.7 L707.2 271.1 L707.7 265.1 L708.2 265.5 L708.7 269.8 L709.2 267.5 L709.7 270.2 L710.2 268.8 L710.7 267.8 L711.2 270.6 L711.7 273.9 L712.2 267.5 L712.7 271.8 L713.2 270.8 L713.7 267.9 L714.2 268.8 L714.7 264.9 L715.2 265.8 L715.7 268.2 L716.2 267.3 L716.7 271.0 L717.2 263.7 L717.7 266.5 L718.2 265.5 L718.7 266.9 L719.2 270.5 L719.7 263.8 L720.2 269.6 L720.7 265.5 L721.2 266.2 L721.7 269.9 L722.2 266.3 L722.7 268.9 L723.2 267.3 L723.7 266.5 L724.2 265.9 L724.7 262.1 L725.2 264.8 L725.7 267.3 L726.2 267.4 L726.7 262.6 L727.2 269.6 L727.7 268.4 L728.2 263.1 L728.7 263.8 L729.2 268.1 L729.7 261.7 L730.2 264.4 L730.7 266.3 L731.2 266.0 L731.7 265.9 L732.2 266.9 L732.7 263.3 L733.2 264.0 L733.7 270.8 L734.2 260.9 L734.7 263.4 L735.2 264.7 L735.7 262.3 L736.2 267.3 L736.7 263.8 L737.2 265.5 L737.7 255.8 L738.2 265.9 L738.7 265.3 L739.2 259.4 L739.7 264.7 L740.2 261.3 L740.7 262.6 L741.2 264.6 L741.7 259.4 L742.2 256.0 L742.7 258.5 L743.2 254.6 L743.7 255.6 L744.2 255.4 L744.7 255.3 L745.2 260.2 L745.7 259.0 L746.2 253.8 L746.7 259.2 L747.2 251.0 L747.7 253.4 L748.2 254.5 L748.7 257.8 L749.2 256.1 L749.7 255.0 L750.2 257.0 L750.7 254.9 L751.2 256.4 L751.7 249.9 L752.2 247.0 L752.7 250.2 L753.2 253.4 L753.7 251.4 L754.2 252.8 L754.7 251.9 L755.2 251.0 L755.7 251.5 L756.2 246.8 L756.7 251.5 L757.2 245.1 L757.7 246.9 L758.2 242.5 L758.7 247.2 L759.2 240.6 L759.7 248.2 L760.2 239.7 L760.7 243.5 L761.2 241.6 L761.7 238.8 L762.2 244.0 L762.7 238.2 L763.2 242.3 L763.7 234.1 L764.2 233.6 L764.7 229.1 L765.2 235.1 L765.7 234.9 L766.2 231.8 L766.7 229.3 L767.2 225.5 L767.6 227.0" fill="none" stroke="#70AD47" stroke-width="3.6" stroke-linejoin="round" stroke-linecap="round"/>
<path d="M107.3 134.0 L107.8 131.3 L108.3 125.5 L108.8 118.6 L109.3 122.5 L109.8 120.1 L110.3 117.0 L110.8 119.8 L111.3 118.9 L111.8 118.4 L112.3 117.2 L112.8 118.0 L113.3 113.8 L113.8 114.8 L114.3 112.3 L114.8 113.1 L115.3 109.3 L115.8 106.1 L116.3 102.9 L116.8 102.9 L117.3 102.1 L117.8 99.8 L118.3 102.9 L118.8 100.9 L119.3 89.4 L119.8 90.5 L120.3 93.8 L120.8 91.5 L121.3 91.6 L121.8 89.9 L122.3 93.6 L122.8 83.3 L123.3 84.3 L123.8 90.1 L124.3 85.2 L124.8 84.3 L125.3 80.0 L125.8 75.8 L126.3 79.9 L126.8 78.7 L127.3 74.0 L127.8 74.6 L128.3 75.6 L128.8 72.4 L129.3 74.1 L129.8 73.9 L130.3 72.8 L130.8 70.2 L131.3 72.2 L131.8 72.0 L132.3 69.3 L132.8 65.3 L133.3 69.0 L133.8 64.9 L134.3 68.1 L134.8 62.0 L135.3 66.8 L135.8 63.5 L136.3 59.3 L136.8 61.2 L137.3 61.4 L137.8 61.4 L138.3 57.3 L138.8 56.3 L139.3 59.4 L139.8 56.9 L140.3 58.5 L140.8 59.6 L141.3 52.5 L141.8 57.5 L142.3 59.9 L142.8 55.3 L143.3 53.6 L143.8 57.6 L144.3 55.9 L144.8 57.3 L145.3 53.8 L145.8 50.8 L146.3 54.7 L146.8 53.9 L147.3 57.5 L147.8 56.0 L148.3 51.0 L148.8 52.3 L149.3 58.3 L149.8 57.9 L150.3 54.2 L150.8 55.9 L151.3 57.1 L151.8 57.1 L152.3 58.1 L152.8 56.3 L153.3 55.3 L153.8 54.7 L154.3 58.4 L154.8 49.0 L155.3 54.7 L155.8 54.9 L156.3 50.5 L156.8 55.0 L157.3 52.0 L157.8 55.9 L158.3 52.8 L158.8 54.7 L159.3 55.9 L159.8 53.2 L160.3 49.6 L160.8 47.8 L161.3 57.0 L161.8 51.8 L162.3 50.3 L162.8 52.6 L163.3 51.7 L163.8 54.7 L164.3 52.4 L164.8 52.4 L165.3 50.7 L165.8 54.5 L166.3 50.8 L166.8 56.0 L167.3 58.9 L167.8 50.8 L168.3 48.7 L168.8 57.8 L169.3 63.7 L169.8 54.2 L170.3 53.7 L170.8 58.8 L171.3 54.8 L171.8 55.8 L172.3 56.2 L172.8 58.7 L173.3 56.1 L173.8 58.0 L174.3 56.7 L174.8 54.8 L175.3 56.8 L175.8 55.8 L176.3 59.2 L176.8 56.8 L177.3 57.6 L177.8 65.7 L178.3 62.5 L178.8 63.4 L179.3 66.0 L179.8 64.4 L180.3 65.7 L180.8 68.2 L181.3 68.4 L181.8 64.9 L182.3 71.1 L182.8 67.8 L183.3 67.2 L183.8 68.4 L184.3 70.5 L184.8 76.9 L185.3 69.9 L185.8 74.6 L186.3 69.2 L186.8 76.1 L187.3 79.6 L187.8 77.5 L188.3 77.6 L188.8 81.1 L189.3 83.6 L189.8 84.6 L190.3 89.5 L190.8 85.8 L191.3 84.8 L191.8 87.4 L192.3 88.8 L192.8 90.5 L193.3 91.2 L193.8 92.9 L194.3 88.9 L194.8 97.0 L195.3 93.8 L195.8 92.6 L196.3 98.1 L196.8 100.5 L197.3 98.6 L197.8 98.2 L198.3 95.6 L198.8 106.7 L199.3 101.6 L199.8 96.4 L200.3 97.9 L200.8 100.7 L201.3 96.5 L201.8 101.8 L202.3 100.4 L202.8 105.6 L203.3 105.3 L203.8 95.4 L204.3 103.5 L204.8 99.3 L205.3 107.0 L205.8 104.3 L206.3 105.2 L206.8 100.6 L207.3 108.6 L207.8 109.0 L208.3 100.2 L208.8 104.1 L209.3 101.1 L209.8 102.8 L210.3 98.6 L210.8 106.2 L211.3 97.1 L211.8 97.8 L212.3 98.9 L212.8 94.5 L213.3 94.6 L213.8 92.6 L214.3 92.7 L214.8 88.7 L215.3 90.2 L215.8 90.7 L216.3 90.3 L216.8 91.3 L217.3 90.2 L217.8 93.0 L218.3 89.9 L218.8 90.3 L219.3 88.7 L219.8 89.0 L220.3 86.9 L220.8 91.9 L221.3 87.4 L221.8 88.5 L222.3 91.7 L222.8 91.9 L223.3 89.7 L223.8 85.2 L224.3 92.1 L224.8 91.7 L225.3 87.4 L225.8 94.1 L226.3 90.6 L226.8 90.0 L227.3 94.0 L227.8 94.1 L228.3 96.0 L228.8 91.9 L229.3 102.4 L229.8 96.5 L230.3 94.9 L230.8 102.1 L231.3 100.4 L231.8 103.4 L232.3 102.6 L232.8 104.6 L233.3 106.6 L233.8 105.0 L234.3 110.2 L234.8 108.2 L235.3 108.4 L235.8 112.5 L236.3 115.0 L236.8 114.6 L237.3 114.2 L237.8 119.8 L238.3 114.6 L238.8 118.1 L239.3 123.3 L239.8 121.5 L240.3 127.6 L240.8 129.5 L241.3 134.4 L241.8 131.5 L242.3 134.4 L242.8 139.3 L243.3 133.7 L243.8 151.6 L244.3 143.2 L244.8 145.4 L245.3 152.1 L245.8 151.6 L246.3 148.8 L246.8 157.6 L247.3 160.4 L247.8 158.8 L248.3 161.3 L248.8 165.6 L249.3 163.7 L249.8 169.6 L250.3 170.4 L250.8 168.9 L251.3 167.9 L251.8 172.2 L252.3 171.3 L252.8 177.6 L253.3 176.2 L253.8 179.0 L254.3 178.2 L254.8 179.5 L255.3 177.4 L255.8 182.2 L256.3 186.1 L256.8 180.9 L257.3 180.9 L257.8 182.8 L258.3 182.6 L258.8 182.7 L259.3 185.8 L259.8 185.3 L260.3 190.6 L260.8 186.9 L261.3 188.1 L261.8 190.1 L262.3 186.9 L262.8 192.0 L263.3 186.5 L263.8 186.3 L264.3 187.9 L264.8 188.9 L265.3 185.2 L265.8 188.7 L266.3 183.9 L266.8 192.2 L267.3 187.7 L267.8 185.9 L268.3 184.8 L268.8 186.0 L269.3 186.2 L269.8 183.6 L270.3 183.7 L270.8 185.6 L271.3 184.5 L271.8 188.4 L272.3 188.8 L272.8 185.4 L273.3 186.5 L273.8 181.3 L274.3 186.6 L274.8 184.6 L275.3 185.8 L275.8 188.7 L276.3 177.6 L276.8 184.5 L277.3 180.4 L277.8 184.9 L278.3 179.3 L278.8 181.4 L279.3 183.1 L279.8 184.0 L280.3 182.3 L280.8 179.8 L281.3 180.3 L281.8 184.2 L282.3 181.6 L282.8 176.8 L283.3 183.8 L283.8 182.5 L284.3 183.6 L284.8 180.1 L285.3 183.4 L285.8 178.1 L286.3 182.8 L286.8 179.8 L287.3 183.2 L287.8 184.2 L288.3 179.3 L288.8 181.3 L289.3 181.6 L289.8 184.9 L290.3 183.5 L290.8 178.0 L291.3 182.6 L291.8 183.3 L292.3 187.0 L292.8 176.2 L293.3 179.3 L293.8 184.4 L294.3 176.8 L294.8 177.1 L295.3 181.8 L295.8 183.2 L296.3 178.4 L296.8 181.7 L297.3 180.5 L297.8 184.3 L298.3 180.0 L298.8 182.7 L299.3 177.4 L299.8 179.3 L300.3 179.6 L300.8 183.1 L301.3 181.6 L301.8 177.9 L302.3 182.0 L302.8 182.3 L303.3 179.9 L303.8 179.5 L304.3 179.8 L304.8 175.6 L305.3 180.8 L305.8 180.6 L306.3 177.2 L306.8 181.4 L307.3 175.2 L307.8 177.2 L308.3 177.2 L308.8 183.8 L309.3 173.4 L309.8 179.2 L310.3 180.1 L310.8 178.5 L311.3 180.7 L311.8 174.5 L312.3 170.8 L312.8 179.3 L313.3 173.8 L313.8 176.1 L314.3 173.7 L314.8 179.9 L315.3 179.0 L315.8 174.1 L316.3 178.2 L316.8 175.6 L317.3 174.4 L317.8 174.5 L318.3 173.3 L318.8 175.1 L319.3 173.8 L319.8 171.5 L320.3 174.9 L320.8 169.9 L321.3 172.0 L321.8 172.0 L322.3 174.5 L322.8 168.5 L323.3 174.4 L323.8 169.6 L324.3 168.1 L324.8 166.4 L325.3 169.3 L325.8 167.1 L326.3 163.2 L326.8 162.4 L327.3 163.3 L327.8 162.2 L328.3 166.5 L328.8 166.6 L329.3 164.4 L329.8 162.3 L330.3 159.4 L330.8 160.1 L331.3 161.8 L331.8 164.6 L332.3 160.6 L332.8 156.6 L333.3 156.8 L333.8 154.7 L334.3 153.2 L334.8 154.2 L335.3 154.8 L335.8 159.1 L336.3 153.7 L336.8 157.0 L337.3 157.8 L337.8 152.8 L338.3 156.7 L338.8 153.8 L339.3 150.3 L339.8 151.9 L340.3 150.8 L340.8 149.8 L341.3 149.5 L341.8 150.1 L342.3 150.6 L342.8 146.5 L343.3 148.6 L343.8 144.0 L344.3 148.6 L344.8 149.3 L345.3 147.7 L345.8 147.8 L346.3 148.4 L346.8 144.7 L347.3 145.6 L347.8 147.5 L348.3 148.6 L348.8 146.7 L349.3 152.5 L349.8 144.8 L350.3 147.6 L350.8 148.0 L351.3 143.7 L351.8 141.4 L352.3 140.1 L352.8 143.5 L353.3 145.8 L353.8 143.1 L354.3 142.5 L354.8 140.6 L355.3 142.9 L355.8 135.1 L356.3 141.5 L356.8 140.7 L357.3 136.5 L357.8 146.2 L358.3 135.8 L358.8 136.1 L359.3 135.3 L359.8 141.2 L360.3 134.8 L360.8 138.2 L361.3 137.0 L361.8 135.1 L362.3 129.7 L362.8 130.9 L363.3 136.6 L363.8 127.6 L364.3 128.2 L364.8 129.4 L365.3 131.5 L365.8 129.3 L366.3 130.0 L366.8 124.3 L367.3 129.3 L367.8 127.6 L368.3 120.8 L368.8 129.0 L369.3 130.4 L369.8 121.2 L370.3 123.1 L370.8 126.5 L371.3 118.2 L371.8 116.4 L372.3 118.1 L372.8 119.8 L373.3 119.5 L373.8 122.5 L374.3 121.3 L374.8 116.7 L375.3 121.9 L375.8 125.8 L376.3 124.2 L376.8 123.9 L377.3 121.5 L377.8 124.5 L378.3 119.3 L378.8 124.4 L379.3 122.1 L379.8 124.9 L380.3 122.4 L380.8 117.4 L381.3 120.2 L381.8 122.6 L382.3 115.4 L382.8 116.4 L383.3 115.2 L383.8 112.5 L384.3 118.8 L384.8 119.1 L385.3 117.2 L385.8 115.3 L386.3 114.1 L386.8 114.6 L387.3 111.5 L387.8 115.7 L388.3 115.8 L388.8 115.1 L389.3 110.6 L389.8 112.0 L390.3 110.9 L390.8 115.9 L391.3 110.9 L391.8 104.6 L392.3 110.6 L392.8 114.2 L393.3 110.4 L393.8 110.5 L394.3 107.7 L394.8 101.6 L395.3 101.5 L395.8 102.5 L396.3 105.0 L396.8 105.6 L397.3 106.1 L397.8 102.6 L398.3 105.7 L398.8 101.6 L399.3 99.9 L399.8 103.6 L400.3 98.0 L400.8 92.2 L401.3 96.2 L401.8 98.7 L402.3 89.1 L402.8 96.0 L403.3 95.3 L403.8 91.5 L404.3 90.7 L404.8 92.8 L405.3 92.0 L405.8 96.7 L406.3 93.9 L406.8 88.1 L407.3 89.7 L407.8 93.7 L408.3 96.7 L408.8 92.1 L409.3 91.5 L409.8 95.5 L410.3 84.4 L410.8 77.8 L411.3 70.5 L411.8 75.3 L412.3 85.2 L412.8 76.3 L413.3 80.9 L413.8 77.4 L414.3 82.2 L414.8 84.9 L415.3 82.0 L415.8 84.8 L416.3 84.9 L416.8 84.3 L417.3 88.0 L417.8 85.5 L418.3 82.5 L418.8 81.6 L419.3 81.3 L419.8 85.1 L420.3 82.7 L420.8 91.1 L421.3 88.3 L421.8 82.3 L422.3 81.8 L422.8 87.2 L423.3 76.9 L423.8 80.7 L424.3 84.4 L424.8 78.9 L425.3 79.8 L425.8 79.8 L426.3 82.3 L426.8 80.5 L427.3 80.9 L427.8 81.1 L428.3 79.1 L428.8 81.8 L429.3 76.3 L429.8 73.9 L430.3 72.8 L430.8 73.2 L431.3 76.1 L431.8 80.5 L432.3 78.1 L432.8 75.8 L433.3 74.5 L433.8 75.9 L434.3 76.2 L434.8 75.7 L435.3 72.7 L435.8 74.5 L436.3 77.7 L436.8 67.9 L437.3 72.4 L437.8 66.2 L438.3 71.7 L438.8 68.1 L439.3 63.2 L439.8 67.0 L440.3 69.5 L440.8 62.3 L441.3 63.9 L441.8 59.8 L442.3 53.2 L442.8 59.9 L443.3 56.7 L443.8 53.0 L444.3 58.6 L444.8 56.5 L445.3 53.5 L445.8 56.7 L446.3 51.0 L446.8 54.4 L447.3 49.1 L447.8 52.3 L448.3 46.8 L448.8 53.2 L449.3 48.8 L449.8 51.2 L450.3 44.0 L450.8 44.1 L451.3 47.3 L451.8 37.1 L452.3 41.7 L452.8 47.4 L453.3 45.6 L453.8 46.9 L454.3 43.1 L454.8 45.4 L455.3 41.6 L455.8 39.6 L456.3 38.5 L456.8 41.5 L457.3 41.2 L457.8 40.8 L458.3 32.3 L458.8 36.4 L459.3 40.3 L459.8 42.8 L460.3 42.1 L460.8 43.1 L461.3 40.1 L461.8 50.3 L462.3 39.6 L462.8 45.5 L463.3 43.2 L463.8 37.6 L464.3 33.3 L464.8 36.0 L465.3 33.9 L465.8 39.3 L466.3 40.0 L466.8 42.9 L467.3 45.1 L467.8 48.1 L468.3 42.9 L468.8 47.7 L469.3 43.3 L469.8 43.8 L470.3 45.3 L470.8 45.0 L471.3 50.7 L471.8 50.4 L472.3 51.2 L472.8 47.4 L473.3 48.0 L473.8 45.5 L474.3 43.6 L474.8 47.7 L475.3 46.8 L475.8 42.6 L476.3 47.7 L476.8 42.1 L477.3 47.3 L477.8 47.0 L478.3 48.2 L478.8 47.6 L479.3 54.3 L479.8 54.3 L480.3 57.1 L480.8 55.1 L481.3 52.4 L481.8 56.4 L482.3 55.6 L482.8 61.6 L483.3 65.1 L483.8 64.0 L484.3 62.9 L484.8 64.9 L485.3 67.9 L485.8 64.7 L486.3 70.3 L486.8 71.3 L487.3 70.1 L487.8 71.4 L488.3 73.9 L488.8 72.0 L489.3 72.9 L489.8 78.3 L490.3 77.6 L490.8 82.6 L491.3 76.4 L491.8 75.7 L492.3 84.9 L492.8 86.5 L493.3 83.2 L493.8 82.6 L494.3 87.9 L494.8 84.4 L495.3 89.6 L495.8 85.8 L496.3 92.1 L496.8 87.3 L497.3 93.1 L497.8 98.5 L498.3 94.0 L498.8 97.4 L499.3 94.0 L499.8 93.8 L500.3 92.5 L500.8 99.8 L501.3 97.0 L501.8 102.0 L502.3 94.4 L502.8 97.3 L503.3 98.4 L503.8 102.4 L504.3 103.8 L504.8 97.2 L505.3 96.3 L505.8 95.2 L506.3 104.4 L506.8 101.1 L507.3 100.1 L507.8 102.4 L508.3 96.1 L508.8 99.0 L509.3 107.1 L509.8 106.2 L510.3 106.1 L510.8 103.5 L511.3 108.6 L511.8 112.6 L512.3 104.8 L512.8 108.9 L513.3 108.2 L513.8 111.1 L514.3 110.7 L514.8 110.9 L515.3 109.5 L515.8 112.6 L516.3 111.6 L516.8 113.7 L517.3 114.6 L517.8 117.3 L518.3 114.5 L518.8 116.0 L519.3 120.6 L519.8 117.7 L520.3 117.8 L520.8 120.9 L521.3 119.1 L521.8 118.6 L522.3 118.8 L522.8 114.7 L523.3 119.4 L523.8 121.7 L524.3 119.6 L524.8 113.5 L525.3 118.6 L525.8 115.2 L526.3 117.1 L526.8 118.0 L527.3 114.3 L527.8 121.3 L528.3 117.3 L528.8 119.6 L529.3 119.1 L529.8 121.1 L530.3 120.3 L530.8 112.3 L531.3 115.9 L531.8 109.3 L532.3 113.4 L532.8 116.1 L533.3 116.1 L533.8 116.6 L534.3 111.3 L534.8 112.7 L535.3 111.2 L535.8 113.3 L536.3 113.1 L536.8 106.5 L537.3 117.0 L537.8 105.0 L538.3 102.5 L538.8 103.7 L539.3 102.6 L539.8 100.5 L540.3 95.7 L540.8 100.1 L541.3 94.7 L541.8 97.3 L542.3 95.4 L542.8 86.5 L543.3 85.9 L543.8 84.5 L544.3 86.6 L544.8 84.6 L545.3 83.9 L545.8 79.4 L546.3 81.5 L546.8 82.8 L547.3 73.8 L547.8 75.7 L548.3 75.9 L548.8 73.7 L549.3 72.4 L549.8 76.8 L550.3 74.4 L550.8 72.2 L551.3 66.7 L551.8 74.1 L552.3 67.9 L552.8 64.4 L553.3 64.3 L553.8 63.1 L554.3 69.6 L554.8 63.4 L555.3 62.1 L555.8 54.8 L556.3 61.8 L556.8 55.6 L557.3 54.3 L557.8 58.1 L558.3 53.6 L558.8 58.5 L559.3 59.4 L559.8 51.4 L560.3 56.5 L560.8 53.2 L561.3 58.1 L561.8 61.5 L562.3 55.9 L562.8 65.5 L563.3 60.4 L563.8 58.7 L564.3 62.4 L564.8 65.8 L565.3 60.9 L565.8 66.3 L566.3 64.1 L566.8 73.0 L567.3 71.8 L567.8 71.9 L568.3 77.7 L568.8 72.9 L569.3 77.1 L569.8 85.1 L570.3 81.4 L570.8 87.4 L571.3 86.0 L571.8 85.4 L572.3 88.5 L572.8 91.3 L573.3 91.9 L573.8 92.6 L574.3 94.6 L574.8 94.6 L575.3 101.1 L575.8 103.9 L576.3 106.9 L576.8 101.8 L577.3 111.1 L577.8 110.9 L578.3 108.9 L578.8 114.8 L579.3 117.8 L579.8 118.0 L580.3 119.5 L580.8 121.1 L581.3 122.0 L581.8 120.4 L582.3 115.6 L582.8 120.3 L583.3 124.1 L583.8 122.4 L584.3 126.2 L584.8 127.2 L585.3 125.7 L585.8 131.4 L586.3 124.1 L586.8 130.0 L587.3 126.5 L587.8 126.0 L588.3 130.3 L588.8 127.3 L589.3 131.8 L589.8 126.5 L590.3 130.2 L590.8 128.1 L591.3 129.7 L591.8 128.7 L592.3 126.1 L592.8 130.5 L593.3 124.7 L593.8 125.1 L594.3 130.3 L594.8 130.4 L595.3 129.6 L595.8 129.4 L596.3 135.6 L596.8 126.6 L597.3 128.6 L597.8 128.7 L598.3 134.8 L598.8 133.8 L599.3 136.9 L599.8 138.2 L600.3 136.6 L600.8 136.6 L601.3 137.9 L601.8 148.6 L602.3 146.8 L602.8 147.5 L603.3 146.6 L603.8 148.8 L604.3 150.3 L604.8 152.3 L605.3 148.4 L605.8 156.8 L606.3 157.8 L606.8 161.6 L607.3 163.3 L607.8 166.8 L608.3 165.9 L608.8 169.6 L609.3 161.7 L609.8 167.3 L610.3 176.7 L610.8 169.9 L611.3 174.0 L611.8 178.2 L612.3 174.0 L612.8 178.8 L613.3 173.0 L613.8 171.9 L614.3 173.8 L614.8 173.1 L615.3 178.0 L615.8 177.4 L616.3 179.4 L616.8 175.9 L617.3 186.1 L617.8 179.0 L618.3 179.4 L618.8 181.0 L619.3 179.2 L619.8 178.3 L620.3 180.5 L620.8 183.1 L621.3 182.6 L621.8 183.5 L622.3 179.5 L622.8 179.1 L623.3 187.1 L623.8 181.0 L624.3 183.2 L624.8 184.1 L625.3 186.2 L625.8 178.6 L626.3 181.2 L626.8 181.5 L627.3 182.0 L627.8 176.2 L628.3 182.9 L628.8 175.2 L629.3 184.3 L629.8 184.9 L630.3 185.0 L630.8 179.8 L631.3 185.8 L631.8 180.6 L632.3 179.4 L632.8 180.0 L633.3 180.3 L633.8 183.1 L634.3 184.8 L634.8 176.5 L635.3 180.7 L635.8 184.7 L636.3 182.6 L636.8 183.4 L637.3 177.8 L637.8 184.7 L638.3 177.6 L638.8 182.5 L639.3 185.8 L639.8 187.3 L640.3 183.4 L640.8 184.5 L641.3 180.3 L641.8 180.7 L642.3 185.3 L642.8 182.0 L643.3 181.6 L643.8 178.1 L644.3 182.4 L644.8 183.8 L645.3 179.8 L645.8 180.6 L646.3 186.4 L646.8 182.5 L647.3 181.2 L647.8 178.8 L648.3 180.3 L648.8 181.3 L649.3 185.8 L649.8 180.2 L650.3 186.9 L650.8 179.2 L651.3 180.7 L651.8 184.0 L652.3 180.9 L652.8 179.2 L653.3 181.1 L653.8 182.6 L654.3 176.4 L654.8 180.4 L655.3 180.7 L655.8 179.7 L656.3 182.8 L656.8 179.0 L657.3 179.5 L657.8 180.5 L658.3 182.3 L658.8 179.5 L659.3 184.3 L659.8 177.3 L660.3 183.3 L660.8 177.1 L661.3 178.9 L661.8 180.1 L662.3 184.7 L662.8 181.2 L663.3 177.4 L663.8 182.0 L664.3 177.6 L664.8 175.7 L665.3 179.0 L665.8 177.8 L666.3 180.1 L666.8 175.8 L667.3 178.3 L667.8 178.9 L668.3 177.7 L668.8 176.8 L669.3 174.8 L669.8 179.2 L670.3 176.9 L670.8 177.8 L671.3 175.3 L671.8 176.2 L672.3 173.1 L672.8 176.2 L673.3 178.0 L673.8 176.1 L674.3 178.1 L674.8 176.5 L675.3 179.4 L675.8 175.0 L676.3 170.8 L676.8 176.5 L677.3 174.8 L677.8 172.5 L678.3 176.9 L678.8 175.8 L679.3 175.7 L679.8 172.7 L680.3 173.4 L680.8 172.7 L681.3 176.1 L681.8 168.4 L682.3 170.4 L682.8 172.3 L683.3 167.2 L683.8 168.3 L684.3 179.7 L684.8 169.5 L685.3 176.8 L685.8 173.1 L686.3 173.3 L686.8 169.9 L687.3 172.9 L687.8 177.6 L688.3 171.5 L688.8 177.1 L689.3 176.3 L689.8 181.0 L690.3 174.0 L690.8 178.9 L691.3 177.8 L691.8 174.5 L692.3 170.7 L692.8 179.6 L693.3 171.6 L693.8 174.2 L694.3 178.1 L694.8 178.8 L695.3 173.3 L695.8 175.7 L696.3 175.1 L696.8 179.2 L697.3 183.0 L697.8 170.9 L698.3 178.6 L698.8 168.1 L699.3 176.1 L699.8 173.0 L700.3 181.7 L700.8 176.6 L701.3 174.0 L701.8 174.7 L702.3 174.5 L702.8 176.6 L703.3 175.7 L703.8 177.9 L704.3 180.4 L704.8 178.1 L705.3 172.8 L705.8 171.8 L706.3 174.4 L706.8 179.6 L707.3 175.8 L707.8 175.0 L708.3 177.5 L708.8 173.2 L709.3 174.2 L709.8 178.9 L710.3 176.8 L710.8 176.5 L711.3 178.8 L711.8 176.2 L712.3 175.6 L712.8 176.0 L713.3 178.7 L713.8 176.9 L714.3 173.1 L714.8 175.4 L715.3 177.8 L715.8 180.9 L716.3 172.2 L716.8 176.1 L717.3 174.2 L717.8 176.9 L718.3 175.7 L718.8 178.5 L719.3 175.8 L719.8 172.8 L720.3 172.7 L720.8 175.3 L721.3 175.2 L721.8 180.7 L722.3 178.7 L722.8 170.6 L723.3 174.8 L723.8 170.1 L724.3 169.1 L724.8 175.7 L725.3 175.0 L725.8 170.4 L726.3 177.7 L726.8 170.2 L727.3 169.5 L727.8 174.4 L728.3 173.0 L728.8 171.8 L729.3 171.9 L729.8 172.5 L730.3 171.3 L730.8 171.1 L731.3 166.1 L731.8 167.6 L732.3 173.0 L732.8 169.3 L733.3 172.7 L733.8 174.5 L734.3 170.0 L734.8 171.7 L735.3 176.7 L735.8 172.7 L736.3 175.8 L736.8 174.9 L737.3 172.6 L737.8 170.1 L738.3 168.0 L738.8 167.2 L739.3 171.6 L739.8 171.5 L740.3 169.6 L740.8 172.4 L741.3 168.3 L741.8 173.0 L742.3 169.9 L742.8 169.2 L743.3 168.6 L743.8 167.6 L744.3 174.2 L744.8 162.0 L745.3 166.3 L745.8 168.6 L746.3 166.5 L746.8 162.9 L747.3 168.0 L747.8 159.9 L748.3 159.1 L748.8 164.1 L749.3 158.3 L749.8 155.5 L750.3 164.4 L750.8 163.9 L751.3 163.6 L751.8 160.0 L752.3 161.7 L752.8 158.3 L753.3 165.6 L753.8 162.8 L754.3 162.2 L754.8 154.1 L755.3 161.3 L755.8 162.7 L756.3 161.5 L756.8 159.8 L757.3 157.0 L757.8 155.6 L758.3 157.7 L758.8 156.6 L759.3 155.6 L759.8 153.4 L760.3 158.3 L760.8 149.7 L761.3 152.2 L761.8 150.0 L762.3 153.9 L762.8 154.3 L763.3 153.2 L763.8 150.9 L764.3 143.6 L764.8 152.1 L765.3 146.4 L765.8 141.5 L766.3 138.8 L766.8 134.6 L767.3 132.4" fill="none" stroke="#264478" stroke-width="3.6" stroke-linejoin="round" stroke-linecap="round"/>
<line x1="467.7" y1="3.5" x2="467.7" y2="542.5" stroke="#000" stroke-width="3" stroke-dasharray="11.3 8.8" stroke-dashoffset="-7.40"/>
<line x1="561.1" y1="3.5" x2="561.1" y2="425" stroke="#000" stroke-width="3" stroke-dasharray="11.3 8.8" stroke-dashoffset="-7.40"/>
<line x1="561.1" y1="493" x2="561.1" y2="542.5" stroke="#000" stroke-width="3" stroke-dasharray="11.3 8.8" stroke-dashoffset="-0.30"/>
<polygon points="460.4,3.0 475.0,3.0 475.0,14.8 482.8,14.8 467.7,29.0 452.6,14.8 460.4,14.8" fill="#FF0000"/>
<polygon points="553.7,25.3 568.2,25.3 568.2,36.9 576.0,36.9 561.0,52.0 545.9,36.9 553.7,36.9" fill="#FF0000"/>
<polygon points="460.3,108.8 474.9,108.8 474.9,119.3 482.7,119.3 467.6,133.2 452.6,119.3 460.3,119.3" fill="#FF0000"/>
<polygon points="553.7,127.1 568.2,127.1 568.2,138.6 576.0,138.6 561.0,153.4 545.9,138.6 553.7,138.6" fill="#FF0000"/>
<polygon points="458.9,225.9 473.6,225.9 473.6,237.2 481.3,237.2 466.2,251.4 451.2,237.2 458.9,237.2" fill="#FF0000"/>
<polygon points="552.1,237.6 566.7,237.6 566.7,249.2 574.4,249.2 559.4,264.3 544.4,249.2 552.1,249.2" fill="#FF0000"/>
<polygon points="458.9,342.4 473.5,342.4 473.5,354.0 481.2,354.0 466.2,368.8 451.1,354.0 458.9,354.0" fill="#FF0000"/>
<polygon points="552.1,355.3 566.7,355.3 566.7,367.2 574.4,367.2 559.4,382.0 544.4,367.2 552.1,367.2" fill="#FF0000"/>
<rect x="55.25" y="2.1" width="711.75" height="557.7" fill="none" stroke="#000" stroke-width="3.5"/>
<text x="22.10" y="606.70" font-size="46.5" textLength="67.95" lengthAdjust="spacing">100</text>
<text x="197.75" y="606.70" font-size="46.5" textLength="70.50" lengthAdjust="spacing">200</text>
<text x="376.50" y="606.70" font-size="46.5">300</text>
<text x="554.00" y="606.70" font-size="46.5" textLength="70.25" lengthAdjust="spacing">400</text>
<text x="732.50" y="606.70" font-size="46.5">500</text>
<text x="236.90" y="665.00" font-size="46.5" textLength="299.14" lengthAdjust="spacing">Raman shift (cm</text>
<text x="544.80" y="651.00" font-size="29" textLength="23.17" lengthAdjust="spacing">-1</text>
<text x="569.00" y="665.00" font-size="46.5">)</text>
<text transform="translate(32.20,530.50) rotate(-90)" font-size="46.5" textLength="486.00" lengthAdjust="spacing">Raman Intensity (arb. unit)</text>
<text x="267.90" y="52.80" font-size="46.5" textLength="173.39" lengthAdjust="spacing">E<tspan font-size="30" dy="10">2</tspan><tspan dy="-10">(NbS</tspan><tspan font-size="30" dy="10">2</tspan><tspan dy="-10">)</tspan></text>
<text x="579.50" y="55.60" font-size="46.5" textLength="176.28" lengthAdjust="spacing">A<tspan font-size="30" dy="10">1</tspan><tspan dy="-10">(NbS</tspan><tspan font-size="30" dy="10">2</tspan><tspan dy="-10">)</tspan></text>
<text x="655.05" y="104.50" font-size="46.5"><tspan font-style="italic">T</tspan><tspan font-size="37" dx="-0.5">a</tspan></text>
<text x="629.25" y="147.00" font-size="46.5" textLength="117.32" lengthAdjust="spacing">800°C</text>
<text x="627.70" y="245.00" font-size="46.5" textLength="118.88" lengthAdjust="spacing">700°C</text>
<text x="628.70" y="322.80" font-size="46.5" textLength="117.88" lengthAdjust="spacing">600°C</text>
<text x="624.90" y="402.80" font-size="46.5" textLength="116.38" lengthAdjust="spacing">500°C</text>
<text x="524.40" y="483.90" font-size="46.5" textLength="230.04" lengthAdjust="spacing">as-deposited</text>
</svg>
</body></html>
